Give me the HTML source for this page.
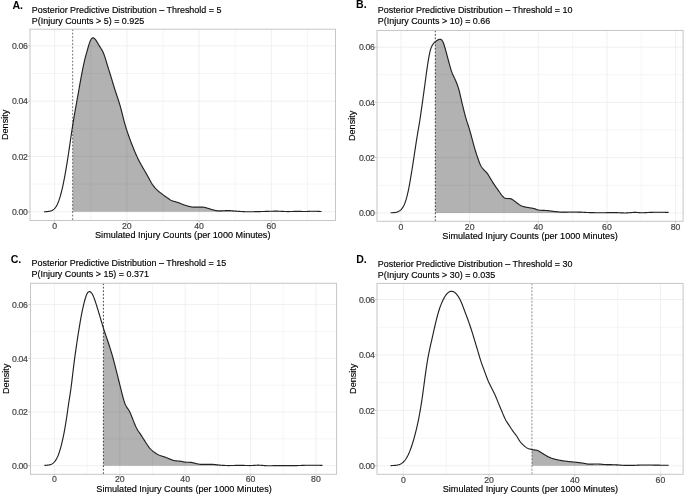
<!DOCTYPE html>
<html lang="en"><head><meta charset="utf-8"><title>Posterior Predictive Distributions</title>
<style>html,body{margin:0;padding:0;background:#fff}body{width:685px;height:494px;overflow:hidden}</style></head>
<body>
<svg width="685" height="494" viewBox="0 0 685 494" style="display:block">
<rect width="685" height="494" fill="#fff"/>
<g font-family="'Liberation Sans', Arial, Helvetica, sans-serif"><line x1="90.73" x2="90.73" y1="29.2" y2="220.5" stroke="#ebebeb" stroke-width="0.5"/>
<line x1="162.99" x2="162.99" y1="29.2" y2="220.5" stroke="#ebebeb" stroke-width="0.5"/>
<line x1="235.25" x2="235.25" y1="29.2" y2="220.5" stroke="#ebebeb" stroke-width="0.5"/>
<line x1="307.51" x2="307.51" y1="29.2" y2="220.5" stroke="#ebebeb" stroke-width="0.5"/>
<line x1="30.0" x2="335.5" y1="184.14" y2="184.14" stroke="#ebebeb" stroke-width="0.5"/>
<line x1="30.0" x2="335.5" y1="128.82" y2="128.82" stroke="#ebebeb" stroke-width="0.5"/>
<line x1="30.0" x2="335.5" y1="73.50" y2="73.50" stroke="#ebebeb" stroke-width="0.5"/>
<line x1="54.60" x2="54.60" y1="29.2" y2="220.5" stroke="#ebebeb" stroke-width="0.75"/>
<line x1="126.86" x2="126.86" y1="29.2" y2="220.5" stroke="#ebebeb" stroke-width="0.75"/>
<line x1="199.12" x2="199.12" y1="29.2" y2="220.5" stroke="#ebebeb" stroke-width="0.75"/>
<line x1="271.38" x2="271.38" y1="29.2" y2="220.5" stroke="#ebebeb" stroke-width="0.75"/>
<line x1="30.0" x2="335.5" y1="211.80" y2="211.80" stroke="#ebebeb" stroke-width="0.75"/>
<line x1="30.0" x2="335.5" y1="156.48" y2="156.48" stroke="#ebebeb" stroke-width="0.75"/>
<line x1="30.0" x2="335.5" y1="101.16" y2="101.16" stroke="#ebebeb" stroke-width="0.75"/>
<line x1="30.0" x2="335.5" y1="45.84" y2="45.84" stroke="#ebebeb" stroke-width="0.75"/>
<path d="M72.67,125.47 L73.01,123.30 L73.51,120.21 L74.01,117.20 L74.51,114.28 L75.01,111.43 L75.51,108.62 L76.01,105.83 L76.51,103.04 L77.01,100.25 L77.51,97.44 L78.01,94.63 L78.51,91.81 L79.01,89.00 L79.51,86.19 L80.01,83.40 L80.51,80.62 L81.01,77.87 L81.51,75.17 L82.01,72.54 L82.51,69.99 L83.01,67.53 L83.51,65.17 L84.01,62.90 L84.51,60.73 L85.01,58.68 L85.51,56.73 L86.01,54.86 L86.51,53.06 L87.01,51.29 L87.51,49.53 L88.01,47.76 L88.51,46.02 L89.01,44.36 L89.51,42.85 L90.01,41.54 L90.51,40.44 L91.01,39.53 L91.51,38.79 L92.01,38.25 L92.51,37.91 L93.01,37.79 L93.51,37.89 L94.01,38.16 L94.51,38.58 L95.01,39.10 L95.51,39.70 L96.01,40.37 L96.51,41.12 L97.01,41.92 L97.51,42.77 L98.01,43.64 L98.51,44.49 L99.01,45.33 L99.51,46.14 L100.01,46.93 L100.51,47.71 L101.01,48.49 L101.51,49.27 L102.01,50.11 L102.51,51.03 L103.01,52.06 L103.51,53.22 L104.01,54.49 L104.51,55.87 L105.01,57.36 L105.51,58.95 L106.01,60.61 L106.51,62.31 L107.01,64.00 L107.51,65.65 L108.01,67.25 L108.51,68.82 L109.01,70.39 L109.51,71.97 L110.01,73.58 L110.51,75.21 L111.01,76.86 L111.51,78.52 L112.01,80.18 L112.51,81.84 L113.01,83.50 L113.51,85.15 L114.01,86.78 L114.51,88.38 L115.01,89.96 L115.51,91.51 L116.01,93.03 L116.51,94.52 L117.01,96.00 L117.51,97.48 L118.01,98.98 L118.51,100.51 L119.01,102.08 L119.51,103.71 L120.01,105.42 L120.51,107.20 L121.01,109.07 L121.51,111.00 L122.01,112.98 L122.51,114.97 L123.01,116.96 L123.51,118.91 L124.01,120.81 L124.51,122.63 L125.01,124.39 L125.51,126.08 L126.01,127.71 L126.51,129.30 L127.01,130.85 L127.51,132.37 L128.01,133.85 L128.51,135.31 L129.01,136.74 L129.51,138.14 L130.01,139.52 L130.51,140.88 L131.01,142.21 L131.51,143.51 L132.01,144.79 L132.51,146.05 L133.01,147.29 L133.51,148.52 L134.01,149.73 L134.51,150.92 L135.01,152.10 L135.51,153.26 L136.01,154.41 L136.51,155.53 L137.01,156.63 L137.51,157.70 L138.01,158.74 L138.51,159.76 L139.01,160.74 L139.51,161.69 L140.01,162.63 L140.51,163.54 L141.01,164.45 L141.51,165.34 L142.01,166.23 L142.51,167.11 L143.01,167.99 L143.51,168.85 L144.01,169.71 L144.51,170.57 L145.01,171.42 L145.51,172.27 L146.01,173.13 L146.51,174.00 L147.01,174.88 L147.51,175.78 L148.01,176.69 L148.51,177.63 L149.01,178.57 L149.51,179.51 L150.01,180.43 L150.51,181.34 L151.01,182.21 L151.51,183.04 L152.01,183.82 L152.51,184.56 L153.01,185.26 L153.51,185.94 L154.01,186.58 L154.51,187.20 L155.01,187.80 L155.51,188.37 L156.01,188.92 L156.51,189.44 L157.01,189.94 L157.51,190.42 L158.01,190.87 L158.51,191.31 L159.01,191.72 L159.51,192.12 L160.01,192.51 L160.51,192.89 L161.01,193.27 L161.51,193.65 L162.01,194.02 L162.51,194.40 L163.01,194.77 L163.51,195.14 L164.01,195.51 L164.51,195.87 L165.01,196.23 L165.51,196.59 L166.01,196.94 L166.51,197.29 L167.01,197.64 L167.51,197.98 L168.01,198.33 L168.51,198.67 L169.01,199.01 L169.51,199.34 L170.01,199.66 L170.51,199.95 L171.01,200.22 L171.51,200.46 L172.01,200.68 L172.51,200.88 L173.01,201.06 L173.51,201.22 L174.01,201.38 L174.51,201.53 L175.01,201.67 L175.51,201.81 L176.01,201.95 L176.51,202.09 L177.01,202.24 L177.51,202.39 L178.01,202.56 L178.51,202.73 L179.01,202.91 L179.51,203.10 L180.01,203.30 L180.51,203.50 L181.01,203.70 L181.51,203.91 L182.01,204.11 L182.51,204.31 L183.01,204.51 L183.51,204.71 L184.01,204.89 L184.51,205.07 L185.01,205.23 L185.51,205.39 L186.01,205.53 L186.51,205.68 L187.01,205.81 L187.51,205.95 L188.01,206.09 L188.51,206.22 L189.01,206.35 L189.51,206.47 L190.01,206.59 L190.51,206.70 L191.01,206.81 L191.51,206.90 L192.01,206.97 L192.51,207.04 L193.01,207.09 L193.51,207.12 L194.01,207.14 L194.51,207.15 L195.01,207.15 L195.51,207.16 L196.01,207.16 L196.51,207.16 L197.01,207.16 L197.51,207.16 L198.01,207.16 L198.51,207.16 L199.01,207.16 L199.51,207.16 L200.01,207.16 L200.51,207.16 L201.01,207.16 L201.51,207.16 L202.01,207.16 L202.51,207.17 L203.01,207.18 L203.51,207.22 L204.01,207.28 L204.51,207.36 L205.01,207.47 L205.51,207.60 L206.01,207.74 L206.51,207.89 L207.01,208.04 L207.51,208.19 L208.01,208.34 L208.51,208.49 L209.01,208.64 L209.51,208.79 L210.01,208.95 L210.51,209.12 L211.01,209.28 L211.51,209.44 L212.01,209.59 L212.51,209.74 L213.01,209.88 L213.51,210.01 L214.01,210.13 L214.51,210.25 L215.01,210.36 L215.51,210.47 L216.01,210.57 L216.51,210.66 L217.01,210.75 L217.51,210.82 L218.01,210.87 L218.51,210.91 L219.01,210.94 L219.51,210.94 L220.01,210.94 L220.51,210.93 L221.01,210.91 L221.51,210.89 L222.01,210.86 L222.51,210.83 L223.01,210.80 L223.51,210.77 L224.01,210.74 L224.51,210.71 L225.01,210.68 L225.51,210.65 L226.01,210.62 L226.51,210.60 L227.01,210.59 L227.51,210.58 L228.01,210.58 L228.51,210.58 L229.01,210.59 L229.51,210.61 L230.01,210.64 L230.51,210.67 L231.01,210.71 L231.51,210.75 L232.01,210.80 L232.51,210.84 L233.01,210.89 L233.51,210.94 L234.01,210.99 L234.51,211.03 L235.01,211.08 L235.51,211.12 L236.01,211.15 L236.51,211.19 L237.01,211.22 L237.51,211.25 L238.01,211.29 L238.51,211.32 L239.01,211.35 L239.51,211.39 L240.01,211.42 L240.51,211.45 L241.01,211.49 L241.51,211.52 L242.01,211.55 L242.51,211.58 L243.01,211.60 L243.51,211.63 L244.01,211.65 L244.51,211.68 L245.01,211.70 L245.51,211.71 L246.01,211.73 L246.51,211.74 L247.01,211.75 L247.51,211.76 L248.01,211.76 L248.51,211.76 L249.01,211.76 L249.51,211.76 L250.01,211.76 L250.51,211.75 L251.01,211.75 L251.51,211.74 L252.01,211.73 L252.51,211.72 L253.01,211.72 L253.51,211.71 L254.01,211.70 L254.51,211.69 L255.01,211.68 L255.51,211.67 L256.01,211.65 L256.51,211.64 L257.01,211.63 L257.51,211.62 L258.01,211.61 L258.51,211.60 L259.01,211.59 L259.51,211.58 L260.01,211.57 L260.51,211.56 L261.01,211.54 L261.51,211.53 L262.01,211.52 L262.51,211.51 L263.01,211.49 L263.51,211.48 L264.01,211.46 L264.51,211.45 L265.01,211.43 L265.51,211.41 L266.01,211.40 L266.51,211.38 L267.01,211.36 L267.51,211.35 L268.01,211.33 L268.51,211.31 L269.01,211.30 L269.51,211.28 L270.01,211.27 L270.51,211.25 L271.01,211.24 L271.51,211.23 L272.01,211.22 L272.51,211.21 L273.01,211.20 L273.51,211.19 L274.01,211.18 L274.51,211.18 L275.01,211.17 L275.51,211.17 L276.01,211.17 L276.51,211.17 L277.01,211.17 L277.51,211.18 L278.01,211.19 L278.51,211.21 L279.01,211.22 L279.51,211.24 L280.01,211.26 L280.51,211.28 L281.01,211.31 L281.51,211.33 L282.01,211.36 L282.51,211.38 L283.01,211.40 L283.51,211.43 L284.01,211.45 L284.51,211.47 L285.01,211.49 L285.51,211.51 L286.01,211.53 L286.51,211.54 L287.01,211.55 L287.51,211.56 L288.01,211.56 L288.51,211.56 L289.01,211.55 L289.51,211.55 L290.01,211.54 L290.51,211.53 L291.01,211.51 L291.51,211.50 L292.01,211.48 L292.51,211.47 L293.01,211.45 L293.51,211.44 L294.01,211.42 L294.51,211.41 L295.01,211.39 L295.51,211.38 L296.01,211.38 L296.51,211.37 L297.01,211.37 L297.51,211.37 L298.01,211.37 L298.51,211.38 L299.01,211.39 L299.51,211.40 L300.01,211.41 L300.51,211.42 L301.01,211.43 L301.51,211.44 L302.01,211.46 L302.51,211.47 L303.01,211.48 L303.51,211.48 L304.01,211.49 L304.51,211.49 L305.01,211.49 L305.51,211.49 L306.01,211.48 L306.51,211.47 L307.01,211.45 L307.51,211.43 L308.01,211.40 L308.51,211.38 L309.01,211.35 L309.51,211.32 L310.01,211.30 L310.51,211.27 L311.01,211.25 L311.51,211.23 L312.01,211.22 L312.51,211.21 L313.01,211.21 L313.51,211.21 L314.01,211.21 L314.51,211.22 L315.01,211.22 L315.51,211.24 L316.01,211.25 L316.51,211.27 L317.01,211.28 L317.51,211.31 L318.01,211.33 L318.51,211.36 L319.01,211.38 L319.51,211.41 L320.01,211.45 L320.51,211.48 L321.01,211.51 L321.51,211.53 L321.51,211.80 L72.67,211.80 Z" fill="#000" fill-opacity="0.3" stroke="none"/>
<path d="M44.01,211.78 L44.51,211.77 L45.01,211.75 L45.51,211.73 L46.01,211.69 L46.51,211.65 L47.01,211.60 L47.51,211.55 L48.01,211.49 L48.51,211.42 L49.01,211.34 L49.51,211.25 L50.01,211.14 L50.51,211.01 L51.01,210.85 L51.51,210.65 L52.01,210.42 L52.51,210.14 L53.01,209.83 L53.51,209.48 L54.01,209.08 L54.51,208.62 L55.01,208.08 L55.51,207.45 L56.01,206.73 L56.51,205.92 L57.01,205.01 L57.51,203.99 L58.01,202.84 L58.51,201.56 L59.01,200.17 L59.51,198.67 L60.01,197.06 L60.51,195.35 L61.01,193.52 L61.51,191.58 L62.01,189.52 L62.51,187.35 L63.01,185.08 L63.51,182.69 L64.01,180.18 L64.51,177.57 L65.01,174.85 L65.51,172.05 L66.01,169.16 L66.51,166.18 L67.01,163.13 L67.51,160.00 L68.01,156.79 L68.51,153.53 L69.01,150.20 L69.51,146.81 L70.01,143.38 L70.51,139.93 L71.01,136.49 L71.51,133.09 L72.01,129.75 L72.51,126.48 L73.01,123.30 L73.51,120.21 L74.01,117.20 L74.51,114.28 L75.01,111.43 L75.51,108.62 L76.01,105.83 L76.51,103.04 L77.01,100.25 L77.51,97.44 L78.01,94.63 L78.51,91.81 L79.01,89.00 L79.51,86.19 L80.01,83.40 L80.51,80.62 L81.01,77.87 L81.51,75.17 L82.01,72.54 L82.51,69.99 L83.01,67.53 L83.51,65.17 L84.01,62.90 L84.51,60.73 L85.01,58.68 L85.51,56.73 L86.01,54.86 L86.51,53.06 L87.01,51.29 L87.51,49.53 L88.01,47.76 L88.51,46.02 L89.01,44.36 L89.51,42.85 L90.01,41.54 L90.51,40.44 L91.01,39.53 L91.51,38.79 L92.01,38.25 L92.51,37.91 L93.01,37.79 L93.51,37.89 L94.01,38.16 L94.51,38.58 L95.01,39.10 L95.51,39.70 L96.01,40.37 L96.51,41.12 L97.01,41.92 L97.51,42.77 L98.01,43.64 L98.51,44.49 L99.01,45.33 L99.51,46.14 L100.01,46.93 L100.51,47.71 L101.01,48.49 L101.51,49.27 L102.01,50.11 L102.51,51.03 L103.01,52.06 L103.51,53.22 L104.01,54.49 L104.51,55.87 L105.01,57.36 L105.51,58.95 L106.01,60.61 L106.51,62.31 L107.01,64.00 L107.51,65.65 L108.01,67.25 L108.51,68.82 L109.01,70.39 L109.51,71.97 L110.01,73.58 L110.51,75.21 L111.01,76.86 L111.51,78.52 L112.01,80.18 L112.51,81.84 L113.01,83.50 L113.51,85.15 L114.01,86.78 L114.51,88.38 L115.01,89.96 L115.51,91.51 L116.01,93.03 L116.51,94.52 L117.01,96.00 L117.51,97.48 L118.01,98.98 L118.51,100.51 L119.01,102.08 L119.51,103.71 L120.01,105.42 L120.51,107.20 L121.01,109.07 L121.51,111.00 L122.01,112.98 L122.51,114.97 L123.01,116.96 L123.51,118.91 L124.01,120.81 L124.51,122.63 L125.01,124.39 L125.51,126.08 L126.01,127.71 L126.51,129.30 L127.01,130.85 L127.51,132.37 L128.01,133.85 L128.51,135.31 L129.01,136.74 L129.51,138.14 L130.01,139.52 L130.51,140.88 L131.01,142.21 L131.51,143.51 L132.01,144.79 L132.51,146.05 L133.01,147.29 L133.51,148.52 L134.01,149.73 L134.51,150.92 L135.01,152.10 L135.51,153.26 L136.01,154.41 L136.51,155.53 L137.01,156.63 L137.51,157.70 L138.01,158.74 L138.51,159.76 L139.01,160.74 L139.51,161.69 L140.01,162.63 L140.51,163.54 L141.01,164.45 L141.51,165.34 L142.01,166.23 L142.51,167.11 L143.01,167.99 L143.51,168.85 L144.01,169.71 L144.51,170.57 L145.01,171.42 L145.51,172.27 L146.01,173.13 L146.51,174.00 L147.01,174.88 L147.51,175.78 L148.01,176.69 L148.51,177.63 L149.01,178.57 L149.51,179.51 L150.01,180.43 L150.51,181.34 L151.01,182.21 L151.51,183.04 L152.01,183.82 L152.51,184.56 L153.01,185.26 L153.51,185.94 L154.01,186.58 L154.51,187.20 L155.01,187.80 L155.51,188.37 L156.01,188.92 L156.51,189.44 L157.01,189.94 L157.51,190.42 L158.01,190.87 L158.51,191.31 L159.01,191.72 L159.51,192.12 L160.01,192.51 L160.51,192.89 L161.01,193.27 L161.51,193.65 L162.01,194.02 L162.51,194.40 L163.01,194.77 L163.51,195.14 L164.01,195.51 L164.51,195.87 L165.01,196.23 L165.51,196.59 L166.01,196.94 L166.51,197.29 L167.01,197.64 L167.51,197.98 L168.01,198.33 L168.51,198.67 L169.01,199.01 L169.51,199.34 L170.01,199.66 L170.51,199.95 L171.01,200.22 L171.51,200.46 L172.01,200.68 L172.51,200.88 L173.01,201.06 L173.51,201.22 L174.01,201.38 L174.51,201.53 L175.01,201.67 L175.51,201.81 L176.01,201.95 L176.51,202.09 L177.01,202.24 L177.51,202.39 L178.01,202.56 L178.51,202.73 L179.01,202.91 L179.51,203.10 L180.01,203.30 L180.51,203.50 L181.01,203.70 L181.51,203.91 L182.01,204.11 L182.51,204.31 L183.01,204.51 L183.51,204.71 L184.01,204.89 L184.51,205.07 L185.01,205.23 L185.51,205.39 L186.01,205.53 L186.51,205.68 L187.01,205.81 L187.51,205.95 L188.01,206.09 L188.51,206.22 L189.01,206.35 L189.51,206.47 L190.01,206.59 L190.51,206.70 L191.01,206.81 L191.51,206.90 L192.01,206.97 L192.51,207.04 L193.01,207.09 L193.51,207.12 L194.01,207.14 L194.51,207.15 L195.01,207.15 L195.51,207.16 L196.01,207.16 L196.51,207.16 L197.01,207.16 L197.51,207.16 L198.01,207.16 L198.51,207.16 L199.01,207.16 L199.51,207.16 L200.01,207.16 L200.51,207.16 L201.01,207.16 L201.51,207.16 L202.01,207.16 L202.51,207.17 L203.01,207.18 L203.51,207.22 L204.01,207.28 L204.51,207.36 L205.01,207.47 L205.51,207.60 L206.01,207.74 L206.51,207.89 L207.01,208.04 L207.51,208.19 L208.01,208.34 L208.51,208.49 L209.01,208.64 L209.51,208.79 L210.01,208.95 L210.51,209.12 L211.01,209.28 L211.51,209.44 L212.01,209.59 L212.51,209.74 L213.01,209.88 L213.51,210.01 L214.01,210.13 L214.51,210.25 L215.01,210.36 L215.51,210.47 L216.01,210.57 L216.51,210.66 L217.01,210.75 L217.51,210.82 L218.01,210.87 L218.51,210.91 L219.01,210.94 L219.51,210.94 L220.01,210.94 L220.51,210.93 L221.01,210.91 L221.51,210.89 L222.01,210.86 L222.51,210.83 L223.01,210.80 L223.51,210.77 L224.01,210.74 L224.51,210.71 L225.01,210.68 L225.51,210.65 L226.01,210.62 L226.51,210.60 L227.01,210.59 L227.51,210.58 L228.01,210.58 L228.51,210.58 L229.01,210.59 L229.51,210.61 L230.01,210.64 L230.51,210.67 L231.01,210.71 L231.51,210.75 L232.01,210.80 L232.51,210.84 L233.01,210.89 L233.51,210.94 L234.01,210.99 L234.51,211.03 L235.01,211.08 L235.51,211.12 L236.01,211.15 L236.51,211.19 L237.01,211.22 L237.51,211.25 L238.01,211.29 L238.51,211.32 L239.01,211.35 L239.51,211.39 L240.01,211.42 L240.51,211.45 L241.01,211.49 L241.51,211.52 L242.01,211.55 L242.51,211.58 L243.01,211.60 L243.51,211.63 L244.01,211.65 L244.51,211.68 L245.01,211.70 L245.51,211.71 L246.01,211.73 L246.51,211.74 L247.01,211.75 L247.51,211.76 L248.01,211.76 L248.51,211.76 L249.01,211.76 L249.51,211.76 L250.01,211.76 L250.51,211.75 L251.01,211.75 L251.51,211.74 L252.01,211.73 L252.51,211.72 L253.01,211.72 L253.51,211.71 L254.01,211.70 L254.51,211.69 L255.01,211.68 L255.51,211.67 L256.01,211.65 L256.51,211.64 L257.01,211.63 L257.51,211.62 L258.01,211.61 L258.51,211.60 L259.01,211.59 L259.51,211.58 L260.01,211.57 L260.51,211.56 L261.01,211.54 L261.51,211.53 L262.01,211.52 L262.51,211.51 L263.01,211.49 L263.51,211.48 L264.01,211.46 L264.51,211.45 L265.01,211.43 L265.51,211.41 L266.01,211.40 L266.51,211.38 L267.01,211.36 L267.51,211.35 L268.01,211.33 L268.51,211.31 L269.01,211.30 L269.51,211.28 L270.01,211.27 L270.51,211.25 L271.01,211.24 L271.51,211.23 L272.01,211.22 L272.51,211.21 L273.01,211.20 L273.51,211.19 L274.01,211.18 L274.51,211.18 L275.01,211.17 L275.51,211.17 L276.01,211.17 L276.51,211.17 L277.01,211.17 L277.51,211.18 L278.01,211.19 L278.51,211.21 L279.01,211.22 L279.51,211.24 L280.01,211.26 L280.51,211.28 L281.01,211.31 L281.51,211.33 L282.01,211.36 L282.51,211.38 L283.01,211.40 L283.51,211.43 L284.01,211.45 L284.51,211.47 L285.01,211.49 L285.51,211.51 L286.01,211.53 L286.51,211.54 L287.01,211.55 L287.51,211.56 L288.01,211.56 L288.51,211.56 L289.01,211.55 L289.51,211.55 L290.01,211.54 L290.51,211.53 L291.01,211.51 L291.51,211.50 L292.01,211.48 L292.51,211.47 L293.01,211.45 L293.51,211.44 L294.01,211.42 L294.51,211.41 L295.01,211.39 L295.51,211.38 L296.01,211.38 L296.51,211.37 L297.01,211.37 L297.51,211.37 L298.01,211.37 L298.51,211.38 L299.01,211.39 L299.51,211.40 L300.01,211.41 L300.51,211.42 L301.01,211.43 L301.51,211.44 L302.01,211.46 L302.51,211.47 L303.01,211.48 L303.51,211.48 L304.01,211.49 L304.51,211.49 L305.01,211.49 L305.51,211.49 L306.01,211.48 L306.51,211.47 L307.01,211.45 L307.51,211.43 L308.01,211.40 L308.51,211.38 L309.01,211.35 L309.51,211.32 L310.01,211.30 L310.51,211.27 L311.01,211.25 L311.51,211.23 L312.01,211.22 L312.51,211.21 L313.01,211.21 L313.51,211.21 L314.01,211.21 L314.51,211.22 L315.01,211.22 L315.51,211.24 L316.01,211.25 L316.51,211.27 L317.01,211.28 L317.51,211.31 L318.01,211.33 L318.51,211.36 L319.01,211.38 L319.51,211.41 L320.01,211.45 L320.51,211.48 L321.01,211.51 L321.51,211.53" fill="none" stroke="#222" stroke-width="1.15" stroke-linejoin="round" stroke-linecap="butt"/>
<line x1="72.67" x2="72.67" y1="29.2" y2="220.5" stroke="#262626" stroke-width="0.85" stroke-dasharray="1.75 1.75" stroke-opacity="0.8"/>
<rect x="30.0" y="29.2" width="305.50" height="191.30" fill="none" stroke="#c6c6c6" stroke-width="1.0"/>
<line x1="54.60" x2="54.60" y1="220.5" y2="222.7" stroke="#c6c6c6" stroke-width="1.0"/>
<text x="54.60" y="229" font-size="8.7" fill="#454545" stroke="#454545" stroke-width="0.2" text-anchor="middle">0</text>
<line x1="126.86" x2="126.86" y1="220.5" y2="222.7" stroke="#c6c6c6" stroke-width="1.0"/>
<text x="126.86" y="229" font-size="8.7" fill="#454545" stroke="#454545" stroke-width="0.2" text-anchor="middle">20</text>
<line x1="199.12" x2="199.12" y1="220.5" y2="222.7" stroke="#c6c6c6" stroke-width="1.0"/>
<text x="199.12" y="229" font-size="8.7" fill="#454545" stroke="#454545" stroke-width="0.2" text-anchor="middle">40</text>
<line x1="271.38" x2="271.38" y1="220.5" y2="222.7" stroke="#c6c6c6" stroke-width="1.0"/>
<text x="271.38" y="229" font-size="8.7" fill="#454545" stroke="#454545" stroke-width="0.2" text-anchor="middle">60</text>
<line x1="27.8" x2="30.0" y1="211.80" y2="211.80" stroke="#c6c6c6" stroke-width="1.0"/>
<text x="27.40" y="215" font-size="8.7" letter-spacing="-0.35" fill="#454545" stroke="#454545" stroke-width="0.2" text-anchor="end">0.00</text>
<line x1="27.8" x2="30.0" y1="156.48" y2="156.48" stroke="#c6c6c6" stroke-width="1.0"/>
<text x="27.40" y="160" font-size="8.7" letter-spacing="-0.35" fill="#454545" stroke="#454545" stroke-width="0.2" text-anchor="end">0.02</text>
<line x1="27.8" x2="30.0" y1="101.16" y2="101.16" stroke="#c6c6c6" stroke-width="1.0"/>
<text x="27.40" y="104" font-size="8.7" letter-spacing="-0.35" fill="#454545" stroke="#454545" stroke-width="0.2" text-anchor="end">0.04</text>
<line x1="27.8" x2="30.0" y1="45.84" y2="45.84" stroke="#c6c6c6" stroke-width="1.0"/>
<text x="27.40" y="49" font-size="8.7" letter-spacing="-0.35" fill="#454545" stroke="#454545" stroke-width="0.2" text-anchor="end">0.06</text>
<text x="182.75" y="238.10" font-size="9.1" fill="#000" stroke="#000" stroke-width="0.15" text-anchor="middle">Simulated Injury Counts (per 1000 Minutes)</text>
<text transform="translate(8.40,124.85) rotate(-90)" font-size="9.1" fill="#000" stroke="#000" stroke-width="0.15" text-anchor="middle">Density</text>
<text x="31.80" y="13.00" font-size="8.96" fill="#000" stroke="#000" stroke-width="0.15">Posterior Predictive Distribution – Threshold = 5</text>
<text x="31.80" y="24.00" font-size="8.96" fill="#000" stroke="#000" stroke-width="0.15">P(Injury Counts &gt; 5) = 0.925</text>
<text x="12.4" y="8.8" font-size="10.6" font-weight="bold" fill="#000">A.</text></g>
<g font-family="'Liberation Sans', Arial, Helvetica, sans-serif"><line x1="435.32" x2="435.32" y1="30.45" y2="221.3" stroke="#ebebeb" stroke-width="0.5"/>
<line x1="503.98" x2="503.98" y1="30.45" y2="221.3" stroke="#ebebeb" stroke-width="0.5"/>
<line x1="572.62" x2="572.62" y1="30.45" y2="221.3" stroke="#ebebeb" stroke-width="0.5"/>
<line x1="641.27" x2="641.27" y1="30.45" y2="221.3" stroke="#ebebeb" stroke-width="0.5"/>
<line x1="377.0" x2="683.1" y1="185.31" y2="185.31" stroke="#ebebeb" stroke-width="0.5"/>
<line x1="377.0" x2="683.1" y1="130.03" y2="130.03" stroke="#ebebeb" stroke-width="0.5"/>
<line x1="377.0" x2="683.1" y1="74.75" y2="74.75" stroke="#ebebeb" stroke-width="0.5"/>
<line x1="401.00" x2="401.00" y1="30.45" y2="221.3" stroke="#ebebeb" stroke-width="0.75"/>
<line x1="469.65" x2="469.65" y1="30.45" y2="221.3" stroke="#ebebeb" stroke-width="0.75"/>
<line x1="538.30" x2="538.30" y1="30.45" y2="221.3" stroke="#ebebeb" stroke-width="0.75"/>
<line x1="606.95" x2="606.95" y1="30.45" y2="221.3" stroke="#ebebeb" stroke-width="0.75"/>
<line x1="675.60" x2="675.60" y1="30.45" y2="221.3" stroke="#ebebeb" stroke-width="0.75"/>
<line x1="377.0" x2="683.1" y1="212.95" y2="212.95" stroke="#ebebeb" stroke-width="0.75"/>
<line x1="377.0" x2="683.1" y1="157.67" y2="157.67" stroke="#ebebeb" stroke-width="0.75"/>
<line x1="377.0" x2="683.1" y1="102.39" y2="102.39" stroke="#ebebeb" stroke-width="0.75"/>
<line x1="377.0" x2="683.1" y1="47.11" y2="47.11" stroke="#ebebeb" stroke-width="0.75"/>
<path d="M435.32,41.82 L435.61,41.57 L436.11,41.17 L436.61,40.78 L437.11,40.44 L437.61,40.12 L438.11,39.85 L438.61,39.61 L439.11,39.42 L439.61,39.28 L440.11,39.23 L440.61,39.31 L441.11,39.53 L441.61,39.93 L442.11,40.51 L442.61,41.30 L443.11,42.31 L443.61,43.55 L444.11,44.98 L444.61,46.57 L445.11,48.26 L445.61,50.04 L446.11,51.87 L446.61,53.74 L447.11,55.61 L447.61,57.50 L448.11,59.37 L448.61,61.24 L449.11,63.10 L449.61,64.93 L450.11,66.72 L450.61,68.45 L451.11,70.06 L451.61,71.54 L452.11,72.87 L452.61,74.07 L453.11,75.18 L453.61,76.25 L454.11,77.30 L454.61,78.37 L455.11,79.46 L455.61,80.58 L456.11,81.74 L456.61,82.96 L457.11,84.24 L457.61,85.60 L458.11,87.08 L458.61,88.70 L459.11,90.49 L459.61,92.46 L460.11,94.57 L460.61,96.78 L461.11,98.99 L461.61,101.18 L462.11,103.32 L462.61,105.41 L463.11,107.47 L463.61,109.50 L464.11,111.50 L464.61,113.47 L465.11,115.37 L465.61,117.20 L466.11,118.93 L466.61,120.55 L467.11,122.09 L467.61,123.58 L468.11,125.05 L468.61,126.56 L469.11,128.15 L469.61,129.81 L470.11,131.56 L470.61,133.37 L471.11,135.22 L471.61,137.09 L472.11,138.96 L472.61,140.84 L473.11,142.71 L473.61,144.56 L474.11,146.38 L474.61,148.15 L475.11,149.87 L475.61,151.51 L476.11,153.10 L476.61,154.64 L477.11,156.12 L477.61,157.56 L478.11,158.97 L478.61,160.35 L479.11,161.69 L479.61,162.98 L480.11,164.17 L480.61,165.25 L481.11,166.20 L481.61,167.03 L482.11,167.74 L482.61,168.38 L483.11,168.96 L483.61,169.51 L484.11,170.03 L484.61,170.54 L485.11,171.04 L485.61,171.53 L486.11,172.04 L486.61,172.59 L487.11,173.20 L487.61,173.88 L488.11,174.64 L488.61,175.45 L489.11,176.30 L489.61,177.15 L490.11,178.01 L490.61,178.85 L491.11,179.67 L491.61,180.49 L492.11,181.30 L492.61,182.10 L493.11,182.89 L493.61,183.67 L494.11,184.42 L494.61,185.16 L495.11,185.89 L495.61,186.60 L496.11,187.30 L496.61,187.99 L497.11,188.69 L497.61,189.38 L498.11,190.09 L498.61,190.81 L499.11,191.54 L499.61,192.27 L500.11,193.00 L500.61,193.71 L501.11,194.39 L501.61,195.03 L502.11,195.64 L502.61,196.21 L503.11,196.74 L503.61,197.23 L504.11,197.64 L504.61,197.96 L505.11,198.18 L505.61,198.32 L506.11,198.40 L506.61,198.45 L507.11,198.48 L507.61,198.50 L508.11,198.51 L508.61,198.53 L509.11,198.56 L509.61,198.59 L510.11,198.65 L510.61,198.75 L511.11,198.90 L511.61,199.11 L512.11,199.37 L512.61,199.68 L513.11,200.02 L513.61,200.37 L514.11,200.73 L514.61,201.11 L515.11,201.50 L515.61,201.90 L516.11,202.29 L516.61,202.69 L517.11,203.07 L517.61,203.44 L518.11,203.80 L518.61,204.15 L519.11,204.50 L519.61,204.83 L520.11,205.14 L520.61,205.44 L521.11,205.70 L521.61,205.93 L522.11,206.14 L522.61,206.31 L523.11,206.47 L523.61,206.61 L524.11,206.74 L524.61,206.85 L525.11,206.96 L525.61,207.07 L526.11,207.17 L526.61,207.27 L527.11,207.37 L527.61,207.46 L528.11,207.55 L528.61,207.63 L529.11,207.72 L529.61,207.79 L530.11,207.87 L530.61,207.95 L531.11,208.03 L531.61,208.11 L532.11,208.19 L532.61,208.28 L533.11,208.38 L533.61,208.49 L534.11,208.61 L534.61,208.75 L535.11,208.91 L535.61,209.09 L536.11,209.27 L536.61,209.46 L537.11,209.64 L537.61,209.80 L538.11,209.94 L538.61,210.05 L539.11,210.13 L539.61,210.19 L540.11,210.23 L540.61,210.27 L541.11,210.30 L541.61,210.32 L542.11,210.34 L542.61,210.36 L543.11,210.38 L543.61,210.40 L544.11,210.42 L544.61,210.44 L545.11,210.46 L545.61,210.48 L546.11,210.51 L546.61,210.54 L547.11,210.58 L547.61,210.62 L548.11,210.67 L548.61,210.72 L549.11,210.78 L549.61,210.84 L550.11,210.91 L550.61,210.98 L551.11,211.05 L551.61,211.12 L552.11,211.19 L552.61,211.26 L553.11,211.33 L553.61,211.39 L554.11,211.45 L554.61,211.51 L555.11,211.56 L555.61,211.62 L556.11,211.67 L556.61,211.72 L557.11,211.77 L557.61,211.82 L558.11,211.87 L558.61,211.91 L559.11,211.96 L559.61,212.00 L560.11,212.04 L560.61,212.07 L561.11,212.10 L561.61,212.12 L562.11,212.14 L562.61,212.15 L563.11,212.16 L563.61,212.16 L564.11,212.15 L564.61,212.14 L565.11,212.13 L565.61,212.12 L566.11,212.10 L566.61,212.08 L567.11,212.07 L567.61,212.05 L568.11,212.03 L568.61,212.01 L569.11,212.00 L569.61,211.99 L570.11,211.98 L570.61,211.97 L571.11,211.97 L571.61,211.97 L572.11,211.97 L572.61,211.97 L573.11,211.98 L573.61,211.99 L574.11,211.99 L574.61,212.00 L575.11,212.01 L575.61,212.02 L576.11,212.03 L576.61,212.04 L577.11,212.05 L577.61,212.07 L578.11,212.08 L578.61,212.09 L579.11,212.11 L579.61,212.12 L580.11,212.14 L580.61,212.15 L581.11,212.17 L581.61,212.19 L582.11,212.21 L582.61,212.23 L583.11,212.25 L583.61,212.28 L584.11,212.31 L584.61,212.34 L585.11,212.37 L585.61,212.40 L586.11,212.43 L586.61,212.46 L587.11,212.48 L587.61,212.51 L588.11,212.53 L588.61,212.55 L589.11,212.56 L589.61,212.58 L590.11,212.59 L590.61,212.60 L591.11,212.62 L591.61,212.63 L592.11,212.64 L592.61,212.65 L593.11,212.66 L593.61,212.67 L594.11,212.69 L594.61,212.70 L595.11,212.70 L595.61,212.71 L596.11,212.72 L596.61,212.73 L597.11,212.74 L597.61,212.74 L598.11,212.75 L598.61,212.75 L599.11,212.76 L599.61,212.76 L600.11,212.76 L600.61,212.76 L601.11,212.76 L601.61,212.76 L602.11,212.76 L602.61,212.76 L603.11,212.75 L603.61,212.74 L604.11,212.73 L604.61,212.73 L605.11,212.71 L605.61,212.70 L606.11,212.69 L606.61,212.68 L607.11,212.67 L607.61,212.66 L608.11,212.64 L608.61,212.63 L609.11,212.62 L609.61,212.61 L610.11,212.60 L610.61,212.59 L611.11,212.58 L611.61,212.58 L612.11,212.57 L612.61,212.57 L613.11,212.57 L613.61,212.57 L614.11,212.58 L614.61,212.59 L615.11,212.60 L615.61,212.61 L616.11,212.63 L616.61,212.65 L617.11,212.67 L617.61,212.69 L618.11,212.72 L618.61,212.74 L619.11,212.76 L619.61,212.79 L620.11,212.81 L620.61,212.84 L621.11,212.86 L621.61,212.88 L622.11,212.90 L622.61,212.92 L623.11,212.93 L623.61,212.94 L624.11,212.95 L624.61,212.96 L625.11,212.96 L625.61,212.95 L626.11,212.94 L626.61,212.92 L627.11,212.90 L627.61,212.87 L628.11,212.84 L628.61,212.80 L629.11,212.76 L629.61,212.72 L630.11,212.67 L630.61,212.63 L631.11,212.59 L631.61,212.55 L632.11,212.51 L632.61,212.47 L633.11,212.44 L633.61,212.42 L634.11,212.40 L634.61,212.39 L635.11,212.38 L635.61,212.39 L636.11,212.40 L636.61,212.42 L637.11,212.45 L637.61,212.49 L638.11,212.53 L638.61,212.57 L639.11,212.61 L639.61,212.65 L640.11,212.68 L640.61,212.71 L641.11,212.73 L641.61,212.75 L642.11,212.75 L642.61,212.75 L643.11,212.74 L643.61,212.73 L644.11,212.71 L644.61,212.69 L645.11,212.66 L645.61,212.63 L646.11,212.60 L646.61,212.57 L647.11,212.54 L647.61,212.51 L648.11,212.49 L648.61,212.46 L649.11,212.44 L649.61,212.42 L650.11,212.40 L650.61,212.38 L651.11,212.37 L651.61,212.35 L652.11,212.34 L652.61,212.33 L653.11,212.31 L653.61,212.30 L654.11,212.29 L654.61,212.27 L655.11,212.26 L655.61,212.25 L656.11,212.24 L656.61,212.23 L657.11,212.23 L657.61,212.22 L658.11,212.21 L658.61,212.21 L659.11,212.20 L659.61,212.20 L660.11,212.20 L660.61,212.21 L661.11,212.21 L661.61,212.21 L662.11,212.22 L662.61,212.23 L663.11,212.24 L663.61,212.26 L664.11,212.27 L664.61,212.29 L665.11,212.31 L665.61,212.33 L666.11,212.35 L666.61,212.37 L667.11,212.40 L667.61,212.42 L668.11,212.44 L668.61,212.46 L668.61,212.95 L435.32,212.95 Z" fill="#000" fill-opacity="0.3" stroke="none"/>
<path d="M390.61,212.78 L391.11,212.77 L391.61,212.76 L392.11,212.74 L392.61,212.71 L393.11,212.68 L393.61,212.64 L394.11,212.60 L394.61,212.55 L395.11,212.49 L395.61,212.42 L396.11,212.33 L396.61,212.21 L397.11,212.06 L397.61,211.87 L398.11,211.65 L398.61,211.40 L399.11,211.11 L399.61,210.80 L400.11,210.43 L400.61,210.02 L401.11,209.54 L401.61,208.99 L402.11,208.37 L402.61,207.66 L403.11,206.86 L403.61,205.94 L404.11,204.91 L404.61,203.74 L405.11,202.44 L405.61,201.00 L406.11,199.42 L406.61,197.68 L407.11,195.78 L407.61,193.73 L408.11,191.52 L408.61,189.13 L409.11,186.58 L409.61,183.89 L410.11,181.08 L410.61,178.17 L411.11,175.19 L411.61,172.13 L412.11,169.00 L412.61,165.81 L413.11,162.57 L413.61,159.29 L414.11,155.97 L414.61,152.65 L415.11,149.33 L415.61,146.04 L416.11,142.79 L416.61,139.60 L417.11,136.51 L417.61,133.52 L418.11,130.62 L418.61,127.75 L419.11,124.83 L419.61,121.76 L420.11,118.52 L420.61,115.13 L421.11,111.64 L421.61,108.12 L422.11,104.60 L422.61,101.07 L423.11,97.50 L423.61,93.88 L424.11,90.20 L424.61,86.47 L425.11,82.72 L425.61,78.97 L426.11,75.26 L426.61,71.63 L427.11,68.12 L427.61,64.74 L428.11,61.55 L428.61,58.56 L429.11,55.82 L429.61,53.36 L430.11,51.22 L430.61,49.40 L431.11,47.88 L431.61,46.63 L432.11,45.60 L432.61,44.75 L433.11,44.05 L433.61,43.45 L434.11,42.93 L434.61,42.45 L435.11,42.00 L435.61,41.57 L436.11,41.17 L436.61,40.78 L437.11,40.44 L437.61,40.12 L438.11,39.85 L438.61,39.61 L439.11,39.42 L439.61,39.28 L440.11,39.23 L440.61,39.31 L441.11,39.53 L441.61,39.93 L442.11,40.51 L442.61,41.30 L443.11,42.31 L443.61,43.55 L444.11,44.98 L444.61,46.57 L445.11,48.26 L445.61,50.04 L446.11,51.87 L446.61,53.74 L447.11,55.61 L447.61,57.50 L448.11,59.37 L448.61,61.24 L449.11,63.10 L449.61,64.93 L450.11,66.72 L450.61,68.45 L451.11,70.06 L451.61,71.54 L452.11,72.87 L452.61,74.07 L453.11,75.18 L453.61,76.25 L454.11,77.30 L454.61,78.37 L455.11,79.46 L455.61,80.58 L456.11,81.74 L456.61,82.96 L457.11,84.24 L457.61,85.60 L458.11,87.08 L458.61,88.70 L459.11,90.49 L459.61,92.46 L460.11,94.57 L460.61,96.78 L461.11,98.99 L461.61,101.18 L462.11,103.32 L462.61,105.41 L463.11,107.47 L463.61,109.50 L464.11,111.50 L464.61,113.47 L465.11,115.37 L465.61,117.20 L466.11,118.93 L466.61,120.55 L467.11,122.09 L467.61,123.58 L468.11,125.05 L468.61,126.56 L469.11,128.15 L469.61,129.81 L470.11,131.56 L470.61,133.37 L471.11,135.22 L471.61,137.09 L472.11,138.96 L472.61,140.84 L473.11,142.71 L473.61,144.56 L474.11,146.38 L474.61,148.15 L475.11,149.87 L475.61,151.51 L476.11,153.10 L476.61,154.64 L477.11,156.12 L477.61,157.56 L478.11,158.97 L478.61,160.35 L479.11,161.69 L479.61,162.98 L480.11,164.17 L480.61,165.25 L481.11,166.20 L481.61,167.03 L482.11,167.74 L482.61,168.38 L483.11,168.96 L483.61,169.51 L484.11,170.03 L484.61,170.54 L485.11,171.04 L485.61,171.53 L486.11,172.04 L486.61,172.59 L487.11,173.20 L487.61,173.88 L488.11,174.64 L488.61,175.45 L489.11,176.30 L489.61,177.15 L490.11,178.01 L490.61,178.85 L491.11,179.67 L491.61,180.49 L492.11,181.30 L492.61,182.10 L493.11,182.89 L493.61,183.67 L494.11,184.42 L494.61,185.16 L495.11,185.89 L495.61,186.60 L496.11,187.30 L496.61,187.99 L497.11,188.69 L497.61,189.38 L498.11,190.09 L498.61,190.81 L499.11,191.54 L499.61,192.27 L500.11,193.00 L500.61,193.71 L501.11,194.39 L501.61,195.03 L502.11,195.64 L502.61,196.21 L503.11,196.74 L503.61,197.23 L504.11,197.64 L504.61,197.96 L505.11,198.18 L505.61,198.32 L506.11,198.40 L506.61,198.45 L507.11,198.48 L507.61,198.50 L508.11,198.51 L508.61,198.53 L509.11,198.56 L509.61,198.59 L510.11,198.65 L510.61,198.75 L511.11,198.90 L511.61,199.11 L512.11,199.37 L512.61,199.68 L513.11,200.02 L513.61,200.37 L514.11,200.73 L514.61,201.11 L515.11,201.50 L515.61,201.90 L516.11,202.29 L516.61,202.69 L517.11,203.07 L517.61,203.44 L518.11,203.80 L518.61,204.15 L519.11,204.50 L519.61,204.83 L520.11,205.14 L520.61,205.44 L521.11,205.70 L521.61,205.93 L522.11,206.14 L522.61,206.31 L523.11,206.47 L523.61,206.61 L524.11,206.74 L524.61,206.85 L525.11,206.96 L525.61,207.07 L526.11,207.17 L526.61,207.27 L527.11,207.37 L527.61,207.46 L528.11,207.55 L528.61,207.63 L529.11,207.72 L529.61,207.79 L530.11,207.87 L530.61,207.95 L531.11,208.03 L531.61,208.11 L532.11,208.19 L532.61,208.28 L533.11,208.38 L533.61,208.49 L534.11,208.61 L534.61,208.75 L535.11,208.91 L535.61,209.09 L536.11,209.27 L536.61,209.46 L537.11,209.64 L537.61,209.80 L538.11,209.94 L538.61,210.05 L539.11,210.13 L539.61,210.19 L540.11,210.23 L540.61,210.27 L541.11,210.30 L541.61,210.32 L542.11,210.34 L542.61,210.36 L543.11,210.38 L543.61,210.40 L544.11,210.42 L544.61,210.44 L545.11,210.46 L545.61,210.48 L546.11,210.51 L546.61,210.54 L547.11,210.58 L547.61,210.62 L548.11,210.67 L548.61,210.72 L549.11,210.78 L549.61,210.84 L550.11,210.91 L550.61,210.98 L551.11,211.05 L551.61,211.12 L552.11,211.19 L552.61,211.26 L553.11,211.33 L553.61,211.39 L554.11,211.45 L554.61,211.51 L555.11,211.56 L555.61,211.62 L556.11,211.67 L556.61,211.72 L557.11,211.77 L557.61,211.82 L558.11,211.87 L558.61,211.91 L559.11,211.96 L559.61,212.00 L560.11,212.04 L560.61,212.07 L561.11,212.10 L561.61,212.12 L562.11,212.14 L562.61,212.15 L563.11,212.16 L563.61,212.16 L564.11,212.15 L564.61,212.14 L565.11,212.13 L565.61,212.12 L566.11,212.10 L566.61,212.08 L567.11,212.07 L567.61,212.05 L568.11,212.03 L568.61,212.01 L569.11,212.00 L569.61,211.99 L570.11,211.98 L570.61,211.97 L571.11,211.97 L571.61,211.97 L572.11,211.97 L572.61,211.97 L573.11,211.98 L573.61,211.99 L574.11,211.99 L574.61,212.00 L575.11,212.01 L575.61,212.02 L576.11,212.03 L576.61,212.04 L577.11,212.05 L577.61,212.07 L578.11,212.08 L578.61,212.09 L579.11,212.11 L579.61,212.12 L580.11,212.14 L580.61,212.15 L581.11,212.17 L581.61,212.19 L582.11,212.21 L582.61,212.23 L583.11,212.25 L583.61,212.28 L584.11,212.31 L584.61,212.34 L585.11,212.37 L585.61,212.40 L586.11,212.43 L586.61,212.46 L587.11,212.48 L587.61,212.51 L588.11,212.53 L588.61,212.55 L589.11,212.56 L589.61,212.58 L590.11,212.59 L590.61,212.60 L591.11,212.62 L591.61,212.63 L592.11,212.64 L592.61,212.65 L593.11,212.66 L593.61,212.67 L594.11,212.69 L594.61,212.70 L595.11,212.70 L595.61,212.71 L596.11,212.72 L596.61,212.73 L597.11,212.74 L597.61,212.74 L598.11,212.75 L598.61,212.75 L599.11,212.76 L599.61,212.76 L600.11,212.76 L600.61,212.76 L601.11,212.76 L601.61,212.76 L602.11,212.76 L602.61,212.76 L603.11,212.75 L603.61,212.74 L604.11,212.73 L604.61,212.73 L605.11,212.71 L605.61,212.70 L606.11,212.69 L606.61,212.68 L607.11,212.67 L607.61,212.66 L608.11,212.64 L608.61,212.63 L609.11,212.62 L609.61,212.61 L610.11,212.60 L610.61,212.59 L611.11,212.58 L611.61,212.58 L612.11,212.57 L612.61,212.57 L613.11,212.57 L613.61,212.57 L614.11,212.58 L614.61,212.59 L615.11,212.60 L615.61,212.61 L616.11,212.63 L616.61,212.65 L617.11,212.67 L617.61,212.69 L618.11,212.72 L618.61,212.74 L619.11,212.76 L619.61,212.79 L620.11,212.81 L620.61,212.84 L621.11,212.86 L621.61,212.88 L622.11,212.90 L622.61,212.92 L623.11,212.93 L623.61,212.94 L624.11,212.95 L624.61,212.96 L625.11,212.96 L625.61,212.95 L626.11,212.94 L626.61,212.92 L627.11,212.90 L627.61,212.87 L628.11,212.84 L628.61,212.80 L629.11,212.76 L629.61,212.72 L630.11,212.67 L630.61,212.63 L631.11,212.59 L631.61,212.55 L632.11,212.51 L632.61,212.47 L633.11,212.44 L633.61,212.42 L634.11,212.40 L634.61,212.39 L635.11,212.38 L635.61,212.39 L636.11,212.40 L636.61,212.42 L637.11,212.45 L637.61,212.49 L638.11,212.53 L638.61,212.57 L639.11,212.61 L639.61,212.65 L640.11,212.68 L640.61,212.71 L641.11,212.73 L641.61,212.75 L642.11,212.75 L642.61,212.75 L643.11,212.74 L643.61,212.73 L644.11,212.71 L644.61,212.69 L645.11,212.66 L645.61,212.63 L646.11,212.60 L646.61,212.57 L647.11,212.54 L647.61,212.51 L648.11,212.49 L648.61,212.46 L649.11,212.44 L649.61,212.42 L650.11,212.40 L650.61,212.38 L651.11,212.37 L651.61,212.35 L652.11,212.34 L652.61,212.33 L653.11,212.31 L653.61,212.30 L654.11,212.29 L654.61,212.27 L655.11,212.26 L655.61,212.25 L656.11,212.24 L656.61,212.23 L657.11,212.23 L657.61,212.22 L658.11,212.21 L658.61,212.21 L659.11,212.20 L659.61,212.20 L660.11,212.20 L660.61,212.21 L661.11,212.21 L661.61,212.21 L662.11,212.22 L662.61,212.23 L663.11,212.24 L663.61,212.26 L664.11,212.27 L664.61,212.29 L665.11,212.31 L665.61,212.33 L666.11,212.35 L666.61,212.37 L667.11,212.40 L667.61,212.42 L668.11,212.44 L668.61,212.46" fill="none" stroke="#222" stroke-width="1.15" stroke-linejoin="round" stroke-linecap="butt"/>
<line x1="435.32" x2="435.32" y1="30.45" y2="221.3" stroke="#262626" stroke-width="0.85" stroke-dasharray="1.75 1.75" stroke-opacity="1"/>
<rect x="377.0" y="30.45" width="306.10" height="190.85" fill="none" stroke="#c6c6c6" stroke-width="1.0"/>
<line x1="401.00" x2="401.00" y1="221.3" y2="223.5" stroke="#c6c6c6" stroke-width="1.0"/>
<text x="401.00" y="230" font-size="8.7" fill="#454545" stroke="#454545" stroke-width="0.2" text-anchor="middle">0</text>
<line x1="469.65" x2="469.65" y1="221.3" y2="223.5" stroke="#c6c6c6" stroke-width="1.0"/>
<text x="469.65" y="230" font-size="8.7" fill="#454545" stroke="#454545" stroke-width="0.2" text-anchor="middle">20</text>
<line x1="538.30" x2="538.30" y1="221.3" y2="223.5" stroke="#c6c6c6" stroke-width="1.0"/>
<text x="538.30" y="230" font-size="8.7" fill="#454545" stroke="#454545" stroke-width="0.2" text-anchor="middle">40</text>
<line x1="606.95" x2="606.95" y1="221.3" y2="223.5" stroke="#c6c6c6" stroke-width="1.0"/>
<text x="606.95" y="230" font-size="8.7" fill="#454545" stroke="#454545" stroke-width="0.2" text-anchor="middle">60</text>
<line x1="675.60" x2="675.60" y1="221.3" y2="223.5" stroke="#c6c6c6" stroke-width="1.0"/>
<text x="675.60" y="230" font-size="8.7" fill="#454545" stroke="#454545" stroke-width="0.2" text-anchor="middle">80</text>
<line x1="374.8" x2="377.0" y1="212.95" y2="212.95" stroke="#c6c6c6" stroke-width="1.0"/>
<text x="374.40" y="216" font-size="8.7" letter-spacing="-0.35" fill="#454545" stroke="#454545" stroke-width="0.2" text-anchor="end">0.00</text>
<line x1="374.8" x2="377.0" y1="157.67" y2="157.67" stroke="#c6c6c6" stroke-width="1.0"/>
<text x="374.40" y="161" font-size="8.7" letter-spacing="-0.35" fill="#454545" stroke="#454545" stroke-width="0.2" text-anchor="end">0.02</text>
<line x1="374.8" x2="377.0" y1="102.39" y2="102.39" stroke="#c6c6c6" stroke-width="1.0"/>
<text x="374.40" y="106" font-size="8.7" letter-spacing="-0.35" fill="#454545" stroke="#454545" stroke-width="0.2" text-anchor="end">0.04</text>
<line x1="374.8" x2="377.0" y1="47.11" y2="47.11" stroke="#c6c6c6" stroke-width="1.0"/>
<text x="374.40" y="50" font-size="8.7" letter-spacing="-0.35" fill="#454545" stroke="#454545" stroke-width="0.2" text-anchor="end">0.06</text>
<text x="530.05" y="238.90" font-size="9.1" fill="#000" stroke="#000" stroke-width="0.15" text-anchor="middle">Simulated Injury Counts (per 1000 Minutes)</text>
<text transform="translate(354.90,125.88) rotate(-90)" font-size="9.1" fill="#000" stroke="#000" stroke-width="0.15" text-anchor="middle">Density</text>
<text x="377.80" y="13.00" font-size="8.96" fill="#000" stroke="#000" stroke-width="0.15">Posterior Predictive Distribution – Threshold = 10</text>
<text x="377.80" y="24.00" font-size="8.96" fill="#000" stroke="#000" stroke-width="0.15">P(Injury Counts &gt; 10) = 0.66</text>
<text x="356.1" y="7.8" font-size="10.6" font-weight="bold" fill="#000">B.</text></g>
<g font-family="'Liberation Sans', Arial, Helvetica, sans-serif"><line x1="87.05" x2="87.05" y1="283.3" y2="474.3" stroke="#ebebeb" stroke-width="0.5"/>
<line x1="152.45" x2="152.45" y1="283.3" y2="474.3" stroke="#ebebeb" stroke-width="0.5"/>
<line x1="217.85" x2="217.85" y1="283.3" y2="474.3" stroke="#ebebeb" stroke-width="0.5"/>
<line x1="283.25" x2="283.25" y1="283.3" y2="474.3" stroke="#ebebeb" stroke-width="0.5"/>
<line x1="30.5" x2="336.6" y1="438.85" y2="438.85" stroke="#ebebeb" stroke-width="0.5"/>
<line x1="30.5" x2="336.6" y1="385.15" y2="385.15" stroke="#ebebeb" stroke-width="0.5"/>
<line x1="30.5" x2="336.6" y1="331.45" y2="331.45" stroke="#ebebeb" stroke-width="0.5"/>
<line x1="54.35" x2="54.35" y1="283.3" y2="474.3" stroke="#ebebeb" stroke-width="0.75"/>
<line x1="119.75" x2="119.75" y1="283.3" y2="474.3" stroke="#ebebeb" stroke-width="0.75"/>
<line x1="185.15" x2="185.15" y1="283.3" y2="474.3" stroke="#ebebeb" stroke-width="0.75"/>
<line x1="250.55" x2="250.55" y1="283.3" y2="474.3" stroke="#ebebeb" stroke-width="0.75"/>
<line x1="315.95" x2="315.95" y1="283.3" y2="474.3" stroke="#ebebeb" stroke-width="0.75"/>
<line x1="30.5" x2="336.6" y1="465.70" y2="465.70" stroke="#ebebeb" stroke-width="0.75"/>
<line x1="30.5" x2="336.6" y1="412.00" y2="412.00" stroke="#ebebeb" stroke-width="0.75"/>
<line x1="30.5" x2="336.6" y1="358.30" y2="358.30" stroke="#ebebeb" stroke-width="0.75"/>
<line x1="30.5" x2="336.6" y1="304.60" y2="304.60" stroke="#ebebeb" stroke-width="0.75"/>
<path d="M103.40,328.09 L103.41,328.11 L103.91,329.67 L104.41,331.20 L104.91,332.70 L105.41,334.17 L105.91,335.63 L106.41,337.09 L106.91,338.55 L107.41,340.02 L107.91,341.49 L108.41,342.98 L108.91,344.48 L109.41,346.01 L109.91,347.57 L110.41,349.17 L110.91,350.80 L111.41,352.47 L111.91,354.18 L112.41,355.92 L112.91,357.70 L113.41,359.52 L113.91,361.38 L114.41,363.28 L114.91,365.23 L115.41,367.21 L115.91,369.20 L116.41,371.21 L116.91,373.22 L117.41,375.23 L117.91,377.23 L118.41,379.24 L118.91,381.24 L119.41,383.23 L119.91,385.23 L120.41,387.22 L120.91,389.22 L121.41,391.20 L121.91,393.17 L122.41,395.10 L122.91,396.99 L123.41,398.81 L123.91,400.53 L124.41,402.11 L124.91,403.50 L125.41,404.69 L125.91,405.71 L126.41,406.58 L126.91,407.36 L127.41,408.09 L127.91,408.80 L128.41,409.54 L128.91,410.32 L129.41,411.18 L129.91,412.15 L130.41,413.23 L130.91,414.41 L131.41,415.68 L131.91,416.98 L132.41,418.30 L132.91,419.61 L133.41,420.89 L133.91,422.14 L134.41,423.36 L134.91,424.54 L135.41,425.69 L135.91,426.78 L136.41,427.80 L136.91,428.76 L137.41,429.64 L137.91,430.46 L138.41,431.23 L138.91,431.97 L139.41,432.69 L139.91,433.41 L140.41,434.14 L140.91,434.89 L141.41,435.65 L141.91,436.43 L142.41,437.22 L142.91,438.01 L143.41,438.81 L143.91,439.60 L144.41,440.40 L144.91,441.18 L145.41,441.96 L145.91,442.73 L146.41,443.49 L146.91,444.24 L147.41,444.98 L147.91,445.72 L148.41,446.44 L148.91,447.13 L149.41,447.78 L149.91,448.38 L150.41,448.94 L150.91,449.45 L151.41,449.93 L151.91,450.38 L152.41,450.80 L152.91,451.20 L153.41,451.59 L153.91,451.96 L154.41,452.32 L154.91,452.66 L155.41,453.00 L155.91,453.33 L156.41,453.65 L156.91,453.96 L157.41,454.25 L157.91,454.52 L158.41,454.78 L158.91,455.02 L159.41,455.24 L159.91,455.44 L160.41,455.63 L160.91,455.80 L161.41,455.97 L161.91,456.13 L162.41,456.28 L162.91,456.44 L163.41,456.59 L163.91,456.75 L164.41,456.91 L164.91,457.09 L165.41,457.27 L165.91,457.46 L166.41,457.66 L166.91,457.86 L167.41,458.07 L167.91,458.28 L168.41,458.49 L168.91,458.70 L169.41,458.90 L169.91,459.09 L170.41,459.28 L170.91,459.47 L171.41,459.66 L171.91,459.84 L172.41,460.02 L172.91,460.19 L173.41,460.35 L173.91,460.49 L174.41,460.60 L174.91,460.70 L175.41,460.77 L175.91,460.83 L176.41,460.88 L176.91,460.92 L177.41,460.95 L177.91,460.99 L178.41,461.02 L178.91,461.06 L179.41,461.11 L179.91,461.17 L180.41,461.24 L180.91,461.32 L181.41,461.43 L181.91,461.54 L182.41,461.66 L182.91,461.77 L183.41,461.88 L183.91,461.98 L184.41,462.05 L184.91,462.11 L185.41,462.16 L185.91,462.19 L186.41,462.21 L186.91,462.23 L187.41,462.24 L187.91,462.25 L188.41,462.26 L188.91,462.28 L189.41,462.29 L189.91,462.31 L190.41,462.34 L190.91,462.38 L191.41,462.43 L191.91,462.50 L192.41,462.60 L192.91,462.72 L193.41,462.85 L193.91,462.99 L194.41,463.13 L194.91,463.26 L195.41,463.39 L195.91,463.51 L196.41,463.63 L196.91,463.73 L197.41,463.84 L197.91,463.94 L198.41,464.04 L198.91,464.12 L199.41,464.20 L199.91,464.26 L200.41,464.31 L200.91,464.33 L201.41,464.35 L201.91,464.36 L202.41,464.36 L202.91,464.36 L203.41,464.36 L203.91,464.36 L204.41,464.36 L204.91,464.36 L205.41,464.36 L205.91,464.36 L206.41,464.36 L206.91,464.36 L207.41,464.36 L207.91,464.36 L208.41,464.36 L208.91,464.36 L209.41,464.36 L209.91,464.36 L210.41,464.36 L210.91,464.36 L211.41,464.36 L211.91,464.37 L212.41,464.38 L212.91,464.40 L213.41,464.42 L213.91,464.46 L214.41,464.50 L214.91,464.56 L215.41,464.61 L215.91,464.68 L216.41,464.74 L216.91,464.81 L217.41,464.87 L217.91,464.93 L218.41,464.99 L218.91,465.05 L219.41,465.10 L219.91,465.14 L220.41,465.18 L220.91,465.22 L221.41,465.25 L221.91,465.29 L222.41,465.32 L222.91,465.35 L223.41,465.38 L223.91,465.41 L224.41,465.44 L224.91,465.47 L225.41,465.49 L225.91,465.51 L226.41,465.53 L226.91,465.54 L227.41,465.55 L227.91,465.56 L228.41,465.56 L228.91,465.56 L229.41,465.55 L229.91,465.55 L230.41,465.54 L230.91,465.53 L231.41,465.52 L231.91,465.51 L232.41,465.50 L232.91,465.49 L233.41,465.48 L233.91,465.47 L234.41,465.46 L234.91,465.44 L235.41,465.43 L235.91,465.42 L236.41,465.41 L236.91,465.40 L237.41,465.39 L237.91,465.38 L238.41,465.38 L238.91,465.37 L239.41,465.37 L239.91,465.37 L240.41,465.37 L240.91,465.37 L241.41,465.38 L241.91,465.38 L242.41,465.39 L242.91,465.40 L243.41,465.41 L243.91,465.43 L244.41,465.44 L244.91,465.46 L245.41,465.47 L245.91,465.49 L246.41,465.50 L246.91,465.51 L247.41,465.52 L247.91,465.53 L248.41,465.54 L248.91,465.55 L249.41,465.55 L249.91,465.56 L250.41,465.55 L250.91,465.54 L251.41,465.53 L251.91,465.50 L252.41,465.48 L252.91,465.45 L253.41,465.41 L253.91,465.38 L254.41,465.34 L254.91,465.31 L255.41,465.28 L255.91,465.24 L256.41,465.22 L256.91,465.20 L257.41,465.18 L257.91,465.18 L258.41,465.18 L258.91,465.18 L259.41,465.20 L259.91,465.22 L260.41,465.25 L260.91,465.28 L261.41,465.32 L261.91,465.36 L262.41,465.40 L262.91,465.44 L263.41,465.48 L263.91,465.53 L264.41,465.57 L264.91,465.61 L265.41,465.65 L265.91,465.68 L266.41,465.71 L266.91,465.73 L267.41,465.74 L267.91,465.75 L268.41,465.76 L268.91,465.76 L269.41,465.75 L269.91,465.75 L270.41,465.74 L270.91,465.73 L271.41,465.73 L271.91,465.72 L272.41,465.70 L272.91,465.69 L273.41,465.68 L273.91,465.67 L274.41,465.66 L274.91,465.64 L275.41,465.63 L275.91,465.62 L276.41,465.61 L276.91,465.60 L277.41,465.59 L277.91,465.58 L278.41,465.58 L278.91,465.57 L279.41,465.57 L279.91,465.57 L280.41,465.56 L280.91,465.56 L281.41,465.56 L281.91,465.56 L282.41,465.56 L282.91,465.56 L283.41,465.56 L283.91,465.56 L284.41,465.56 L284.91,465.56 L285.41,465.56 L285.91,465.56 L286.41,465.56 L286.91,465.56 L287.41,465.56 L287.91,465.56 L288.41,465.56 L288.91,465.56 L289.41,465.56 L289.91,465.56 L290.41,465.56 L290.91,465.56 L291.41,465.56 L291.91,465.56 L292.41,465.56 L292.91,465.56 L293.41,465.56 L293.91,465.56 L294.41,465.56 L294.91,465.56 L295.41,465.56 L295.91,465.56 L296.41,465.56 L296.91,465.56 L297.41,465.56 L297.91,465.55 L298.41,465.54 L298.91,465.53 L299.41,465.51 L299.91,465.49 L300.41,465.47 L300.91,465.45 L301.41,465.43 L301.91,465.41 L302.41,465.39 L302.91,465.37 L303.41,465.35 L303.91,465.33 L304.41,465.32 L304.91,465.30 L305.41,465.29 L305.91,465.29 L306.41,465.28 L306.91,465.27 L307.41,465.26 L307.91,465.25 L308.41,465.25 L308.91,465.24 L309.41,465.23 L309.91,465.23 L310.41,465.22 L310.91,465.22 L311.41,465.21 L311.91,465.21 L312.41,465.21 L312.91,465.20 L313.41,465.20 L313.91,465.20 L314.41,465.20 L314.91,465.21 L315.41,465.21 L315.91,465.21 L316.41,465.22 L316.91,465.23 L317.41,465.24 L317.91,465.25 L318.41,465.26 L318.91,465.27 L319.41,465.29 L319.91,465.30 L320.41,465.32 L320.91,465.33 L321.41,465.35 L321.91,465.36 L322.41,465.38 L322.41,465.70 L103.40,465.70 Z" fill="#000" fill-opacity="0.3" stroke="none"/>
<path d="M44.41,465.38 L44.91,465.37 L45.41,465.35 L45.91,465.32 L46.41,465.28 L46.91,465.24 L47.41,465.18 L47.91,465.12 L48.41,465.05 L48.91,464.97 L49.41,464.87 L49.91,464.76 L50.41,464.61 L50.91,464.43 L51.41,464.21 L51.91,463.93 L52.41,463.62 L52.91,463.27 L53.41,462.87 L53.91,462.42 L54.41,461.90 L54.91,461.30 L55.41,460.63 L55.91,459.88 L56.41,459.05 L56.91,458.11 L57.41,457.08 L57.91,455.93 L58.41,454.68 L58.91,453.33 L59.41,451.86 L59.91,450.28 L60.41,448.59 L60.91,446.78 L61.41,444.87 L61.91,442.84 L62.41,440.71 L62.91,438.45 L63.41,436.08 L63.91,433.58 L64.41,430.95 L64.91,428.18 L65.41,425.27 L65.91,422.20 L66.41,418.97 L66.91,415.57 L67.41,412.06 L67.91,408.52 L68.41,405.06 L68.91,401.73 L69.41,398.54 L69.91,395.40 L70.41,392.17 L70.91,388.71 L71.41,384.92 L71.91,380.83 L72.41,376.56 L72.91,372.28 L73.41,368.10 L73.91,364.07 L74.41,360.19 L74.91,356.45 L75.41,352.83 L75.91,349.31 L76.41,345.87 L76.91,342.50 L77.41,339.19 L77.91,335.94 L78.41,332.74 L78.91,329.61 L79.41,326.54 L79.91,323.56 L80.41,320.67 L80.91,317.89 L81.41,315.22 L81.91,312.67 L82.41,310.23 L82.91,307.91 L83.41,305.70 L83.91,303.61 L84.41,301.63 L84.91,299.77 L85.41,298.06 L85.91,296.50 L86.41,295.12 L86.91,293.97 L87.41,293.07 L87.91,292.42 L88.41,291.97 L88.91,291.71 L89.41,291.60 L89.91,291.66 L90.41,291.88 L90.91,292.27 L91.41,292.81 L91.91,293.49 L92.41,294.31 L92.91,295.28 L93.41,296.38 L93.91,297.61 L94.41,298.93 L94.91,300.32 L95.41,301.79 L95.91,303.32 L96.41,304.89 L96.91,306.49 L97.41,308.11 L97.91,309.76 L98.41,311.42 L98.91,313.09 L99.41,314.77 L99.91,316.45 L100.41,318.14 L100.91,319.83 L101.41,321.51 L101.91,323.20 L102.41,324.86 L102.91,326.50 L103.41,328.11 L103.91,329.67 L104.41,331.20 L104.91,332.70 L105.41,334.17 L105.91,335.63 L106.41,337.09 L106.91,338.55 L107.41,340.02 L107.91,341.49 L108.41,342.98 L108.91,344.48 L109.41,346.01 L109.91,347.57 L110.41,349.17 L110.91,350.80 L111.41,352.47 L111.91,354.18 L112.41,355.92 L112.91,357.70 L113.41,359.52 L113.91,361.38 L114.41,363.28 L114.91,365.23 L115.41,367.21 L115.91,369.20 L116.41,371.21 L116.91,373.22 L117.41,375.23 L117.91,377.23 L118.41,379.24 L118.91,381.24 L119.41,383.23 L119.91,385.23 L120.41,387.22 L120.91,389.22 L121.41,391.20 L121.91,393.17 L122.41,395.10 L122.91,396.99 L123.41,398.81 L123.91,400.53 L124.41,402.11 L124.91,403.50 L125.41,404.69 L125.91,405.71 L126.41,406.58 L126.91,407.36 L127.41,408.09 L127.91,408.80 L128.41,409.54 L128.91,410.32 L129.41,411.18 L129.91,412.15 L130.41,413.23 L130.91,414.41 L131.41,415.68 L131.91,416.98 L132.41,418.30 L132.91,419.61 L133.41,420.89 L133.91,422.14 L134.41,423.36 L134.91,424.54 L135.41,425.69 L135.91,426.78 L136.41,427.80 L136.91,428.76 L137.41,429.64 L137.91,430.46 L138.41,431.23 L138.91,431.97 L139.41,432.69 L139.91,433.41 L140.41,434.14 L140.91,434.89 L141.41,435.65 L141.91,436.43 L142.41,437.22 L142.91,438.01 L143.41,438.81 L143.91,439.60 L144.41,440.40 L144.91,441.18 L145.41,441.96 L145.91,442.73 L146.41,443.49 L146.91,444.24 L147.41,444.98 L147.91,445.72 L148.41,446.44 L148.91,447.13 L149.41,447.78 L149.91,448.38 L150.41,448.94 L150.91,449.45 L151.41,449.93 L151.91,450.38 L152.41,450.80 L152.91,451.20 L153.41,451.59 L153.91,451.96 L154.41,452.32 L154.91,452.66 L155.41,453.00 L155.91,453.33 L156.41,453.65 L156.91,453.96 L157.41,454.25 L157.91,454.52 L158.41,454.78 L158.91,455.02 L159.41,455.24 L159.91,455.44 L160.41,455.63 L160.91,455.80 L161.41,455.97 L161.91,456.13 L162.41,456.28 L162.91,456.44 L163.41,456.59 L163.91,456.75 L164.41,456.91 L164.91,457.09 L165.41,457.27 L165.91,457.46 L166.41,457.66 L166.91,457.86 L167.41,458.07 L167.91,458.28 L168.41,458.49 L168.91,458.70 L169.41,458.90 L169.91,459.09 L170.41,459.28 L170.91,459.47 L171.41,459.66 L171.91,459.84 L172.41,460.02 L172.91,460.19 L173.41,460.35 L173.91,460.49 L174.41,460.60 L174.91,460.70 L175.41,460.77 L175.91,460.83 L176.41,460.88 L176.91,460.92 L177.41,460.95 L177.91,460.99 L178.41,461.02 L178.91,461.06 L179.41,461.11 L179.91,461.17 L180.41,461.24 L180.91,461.32 L181.41,461.43 L181.91,461.54 L182.41,461.66 L182.91,461.77 L183.41,461.88 L183.91,461.98 L184.41,462.05 L184.91,462.11 L185.41,462.16 L185.91,462.19 L186.41,462.21 L186.91,462.23 L187.41,462.24 L187.91,462.25 L188.41,462.26 L188.91,462.28 L189.41,462.29 L189.91,462.31 L190.41,462.34 L190.91,462.38 L191.41,462.43 L191.91,462.50 L192.41,462.60 L192.91,462.72 L193.41,462.85 L193.91,462.99 L194.41,463.13 L194.91,463.26 L195.41,463.39 L195.91,463.51 L196.41,463.63 L196.91,463.73 L197.41,463.84 L197.91,463.94 L198.41,464.04 L198.91,464.12 L199.41,464.20 L199.91,464.26 L200.41,464.31 L200.91,464.33 L201.41,464.35 L201.91,464.36 L202.41,464.36 L202.91,464.36 L203.41,464.36 L203.91,464.36 L204.41,464.36 L204.91,464.36 L205.41,464.36 L205.91,464.36 L206.41,464.36 L206.91,464.36 L207.41,464.36 L207.91,464.36 L208.41,464.36 L208.91,464.36 L209.41,464.36 L209.91,464.36 L210.41,464.36 L210.91,464.36 L211.41,464.36 L211.91,464.37 L212.41,464.38 L212.91,464.40 L213.41,464.42 L213.91,464.46 L214.41,464.50 L214.91,464.56 L215.41,464.61 L215.91,464.68 L216.41,464.74 L216.91,464.81 L217.41,464.87 L217.91,464.93 L218.41,464.99 L218.91,465.05 L219.41,465.10 L219.91,465.14 L220.41,465.18 L220.91,465.22 L221.41,465.25 L221.91,465.29 L222.41,465.32 L222.91,465.35 L223.41,465.38 L223.91,465.41 L224.41,465.44 L224.91,465.47 L225.41,465.49 L225.91,465.51 L226.41,465.53 L226.91,465.54 L227.41,465.55 L227.91,465.56 L228.41,465.56 L228.91,465.56 L229.41,465.55 L229.91,465.55 L230.41,465.54 L230.91,465.53 L231.41,465.52 L231.91,465.51 L232.41,465.50 L232.91,465.49 L233.41,465.48 L233.91,465.47 L234.41,465.46 L234.91,465.44 L235.41,465.43 L235.91,465.42 L236.41,465.41 L236.91,465.40 L237.41,465.39 L237.91,465.38 L238.41,465.38 L238.91,465.37 L239.41,465.37 L239.91,465.37 L240.41,465.37 L240.91,465.37 L241.41,465.38 L241.91,465.38 L242.41,465.39 L242.91,465.40 L243.41,465.41 L243.91,465.43 L244.41,465.44 L244.91,465.46 L245.41,465.47 L245.91,465.49 L246.41,465.50 L246.91,465.51 L247.41,465.52 L247.91,465.53 L248.41,465.54 L248.91,465.55 L249.41,465.55 L249.91,465.56 L250.41,465.55 L250.91,465.54 L251.41,465.53 L251.91,465.50 L252.41,465.48 L252.91,465.45 L253.41,465.41 L253.91,465.38 L254.41,465.34 L254.91,465.31 L255.41,465.28 L255.91,465.24 L256.41,465.22 L256.91,465.20 L257.41,465.18 L257.91,465.18 L258.41,465.18 L258.91,465.18 L259.41,465.20 L259.91,465.22 L260.41,465.25 L260.91,465.28 L261.41,465.32 L261.91,465.36 L262.41,465.40 L262.91,465.44 L263.41,465.48 L263.91,465.53 L264.41,465.57 L264.91,465.61 L265.41,465.65 L265.91,465.68 L266.41,465.71 L266.91,465.73 L267.41,465.74 L267.91,465.75 L268.41,465.76 L268.91,465.76 L269.41,465.75 L269.91,465.75 L270.41,465.74 L270.91,465.73 L271.41,465.73 L271.91,465.72 L272.41,465.70 L272.91,465.69 L273.41,465.68 L273.91,465.67 L274.41,465.66 L274.91,465.64 L275.41,465.63 L275.91,465.62 L276.41,465.61 L276.91,465.60 L277.41,465.59 L277.91,465.58 L278.41,465.58 L278.91,465.57 L279.41,465.57 L279.91,465.57 L280.41,465.56 L280.91,465.56 L281.41,465.56 L281.91,465.56 L282.41,465.56 L282.91,465.56 L283.41,465.56 L283.91,465.56 L284.41,465.56 L284.91,465.56 L285.41,465.56 L285.91,465.56 L286.41,465.56 L286.91,465.56 L287.41,465.56 L287.91,465.56 L288.41,465.56 L288.91,465.56 L289.41,465.56 L289.91,465.56 L290.41,465.56 L290.91,465.56 L291.41,465.56 L291.91,465.56 L292.41,465.56 L292.91,465.56 L293.41,465.56 L293.91,465.56 L294.41,465.56 L294.91,465.56 L295.41,465.56 L295.91,465.56 L296.41,465.56 L296.91,465.56 L297.41,465.56 L297.91,465.55 L298.41,465.54 L298.91,465.53 L299.41,465.51 L299.91,465.49 L300.41,465.47 L300.91,465.45 L301.41,465.43 L301.91,465.41 L302.41,465.39 L302.91,465.37 L303.41,465.35 L303.91,465.33 L304.41,465.32 L304.91,465.30 L305.41,465.29 L305.91,465.29 L306.41,465.28 L306.91,465.27 L307.41,465.26 L307.91,465.25 L308.41,465.25 L308.91,465.24 L309.41,465.23 L309.91,465.23 L310.41,465.22 L310.91,465.22 L311.41,465.21 L311.91,465.21 L312.41,465.21 L312.91,465.20 L313.41,465.20 L313.91,465.20 L314.41,465.20 L314.91,465.21 L315.41,465.21 L315.91,465.21 L316.41,465.22 L316.91,465.23 L317.41,465.24 L317.91,465.25 L318.41,465.26 L318.91,465.27 L319.41,465.29 L319.91,465.30 L320.41,465.32 L320.91,465.33 L321.41,465.35 L321.91,465.36 L322.41,465.38" fill="none" stroke="#222" stroke-width="1.15" stroke-linejoin="round" stroke-linecap="butt"/>
<line x1="103.40" x2="103.40" y1="283.3" y2="474.3" stroke="#262626" stroke-width="0.85" stroke-dasharray="1.75 1.75" stroke-opacity="1"/>
<rect x="30.5" y="283.3" width="306.10" height="191.00" fill="none" stroke="#c6c6c6" stroke-width="1.0"/>
<line x1="54.35" x2="54.35" y1="474.3" y2="476.5" stroke="#c6c6c6" stroke-width="1.0"/>
<text x="54.35" y="482" font-size="8.7" fill="#454545" stroke="#454545" stroke-width="0.2" text-anchor="middle">0</text>
<line x1="119.75" x2="119.75" y1="474.3" y2="476.5" stroke="#c6c6c6" stroke-width="1.0"/>
<text x="119.75" y="482" font-size="8.7" fill="#454545" stroke="#454545" stroke-width="0.2" text-anchor="middle">20</text>
<line x1="185.15" x2="185.15" y1="474.3" y2="476.5" stroke="#c6c6c6" stroke-width="1.0"/>
<text x="185.15" y="482" font-size="8.7" fill="#454545" stroke="#454545" stroke-width="0.2" text-anchor="middle">40</text>
<line x1="250.55" x2="250.55" y1="474.3" y2="476.5" stroke="#c6c6c6" stroke-width="1.0"/>
<text x="250.55" y="482" font-size="8.7" fill="#454545" stroke="#454545" stroke-width="0.2" text-anchor="middle">60</text>
<line x1="315.95" x2="315.95" y1="474.3" y2="476.5" stroke="#c6c6c6" stroke-width="1.0"/>
<text x="315.95" y="482" font-size="8.7" fill="#454545" stroke="#454545" stroke-width="0.2" text-anchor="middle">80</text>
<line x1="28.3" x2="30.5" y1="465.70" y2="465.70" stroke="#c6c6c6" stroke-width="1.0"/>
<text x="27.50" y="469" font-size="8.7" letter-spacing="-0.35" fill="#454545" stroke="#454545" stroke-width="0.2" text-anchor="end">0.00</text>
<line x1="28.3" x2="30.5" y1="412.00" y2="412.00" stroke="#c6c6c6" stroke-width="1.0"/>
<text x="27.50" y="415" font-size="8.7" letter-spacing="-0.35" fill="#454545" stroke="#454545" stroke-width="0.2" text-anchor="end">0.02</text>
<line x1="28.3" x2="30.5" y1="358.30" y2="358.30" stroke="#c6c6c6" stroke-width="1.0"/>
<text x="27.50" y="362" font-size="8.7" letter-spacing="-0.35" fill="#454545" stroke="#454545" stroke-width="0.2" text-anchor="end">0.04</text>
<line x1="28.3" x2="30.5" y1="304.60" y2="304.60" stroke="#c6c6c6" stroke-width="1.0"/>
<text x="27.50" y="308" font-size="8.7" letter-spacing="-0.35" fill="#454545" stroke="#454545" stroke-width="0.2" text-anchor="end">0.06</text>
<text x="184.05" y="491.90" font-size="9.1" fill="#000" stroke="#000" stroke-width="0.15" text-anchor="middle">Simulated Injury Counts (per 1000 Minutes)</text>
<text transform="translate(8.80,378.80) rotate(-90)" font-size="9.1" fill="#000" stroke="#000" stroke-width="0.15" text-anchor="middle">Density</text>
<text x="31.50" y="266.00" font-size="8.96" fill="#000" stroke="#000" stroke-width="0.15">Posterior Predictive Distribution – Threshold = 15</text>
<text x="31.50" y="277.00" font-size="8.96" fill="#000" stroke="#000" stroke-width="0.15">P(Injury Counts &gt; 15) = 0.371</text>
<text x="10.7" y="262.65" font-size="10.6" font-weight="bold" fill="#000">C.</text></g>
<g font-family="'Liberation Sans', Arial, Helvetica, sans-serif"><line x1="446.24" x2="446.24" y1="283.4" y2="474.3" stroke="#ebebeb" stroke-width="0.5"/>
<line x1="531.92" x2="531.92" y1="283.4" y2="474.3" stroke="#ebebeb" stroke-width="0.5"/>
<line x1="617.60" x2="617.60" y1="283.4" y2="474.3" stroke="#ebebeb" stroke-width="0.5"/>
<line x1="377.0" x2="683.1" y1="438.05" y2="438.05" stroke="#ebebeb" stroke-width="0.5"/>
<line x1="377.0" x2="683.1" y1="382.65" y2="382.65" stroke="#ebebeb" stroke-width="0.5"/>
<line x1="377.0" x2="683.1" y1="327.25" y2="327.25" stroke="#ebebeb" stroke-width="0.5"/>
<line x1="403.40" x2="403.40" y1="283.4" y2="474.3" stroke="#ebebeb" stroke-width="0.75"/>
<line x1="489.08" x2="489.08" y1="283.4" y2="474.3" stroke="#ebebeb" stroke-width="0.75"/>
<line x1="574.76" x2="574.76" y1="283.4" y2="474.3" stroke="#ebebeb" stroke-width="0.75"/>
<line x1="660.44" x2="660.44" y1="283.4" y2="474.3" stroke="#ebebeb" stroke-width="0.75"/>
<line x1="377.0" x2="683.1" y1="465.75" y2="465.75" stroke="#ebebeb" stroke-width="0.75"/>
<line x1="377.0" x2="683.1" y1="410.35" y2="410.35" stroke="#ebebeb" stroke-width="0.75"/>
<line x1="377.0" x2="683.1" y1="354.95" y2="354.95" stroke="#ebebeb" stroke-width="0.75"/>
<line x1="377.0" x2="683.1" y1="299.55" y2="299.55" stroke="#ebebeb" stroke-width="0.75"/>
<path d="M531.92,449.53 L532.11,449.56 L532.61,449.65 L533.11,449.72 L533.61,449.79 L534.11,449.86 L534.61,449.93 L535.11,450.00 L535.61,450.07 L536.11,450.16 L536.61,450.27 L537.11,450.41 L537.61,450.57 L538.11,450.78 L538.61,451.02 L539.11,451.29 L539.61,451.59 L540.11,451.90 L540.61,452.22 L541.11,452.54 L541.61,452.85 L542.11,453.16 L542.61,453.47 L543.11,453.78 L543.61,454.09 L544.11,454.40 L544.61,454.71 L545.11,455.02 L545.61,455.32 L546.11,455.61 L546.61,455.88 L547.11,456.15 L547.61,456.41 L548.11,456.66 L548.61,456.91 L549.11,457.15 L549.61,457.38 L550.11,457.60 L550.61,457.82 L551.11,458.03 L551.61,458.22 L552.11,458.41 L552.61,458.58 L553.11,458.74 L553.61,458.89 L554.11,459.04 L554.61,459.17 L555.11,459.30 L555.61,459.42 L556.11,459.54 L556.61,459.65 L557.11,459.76 L557.61,459.86 L558.11,459.96 L558.61,460.06 L559.11,460.15 L559.61,460.24 L560.11,460.33 L560.61,460.42 L561.11,460.50 L561.61,460.59 L562.11,460.66 L562.61,460.74 L563.11,460.82 L563.61,460.89 L564.11,460.96 L564.61,461.03 L565.11,461.10 L565.61,461.17 L566.11,461.23 L566.61,461.29 L567.11,461.35 L567.61,461.41 L568.11,461.47 L568.61,461.52 L569.11,461.57 L569.61,461.62 L570.11,461.67 L570.61,461.72 L571.11,461.76 L571.61,461.81 L572.11,461.86 L572.61,461.91 L573.11,461.95 L573.61,462.00 L574.11,462.05 L574.61,462.11 L575.11,462.16 L575.61,462.21 L576.11,462.27 L576.61,462.33 L577.11,462.39 L577.61,462.44 L578.11,462.50 L578.61,462.56 L579.11,462.63 L579.61,462.69 L580.11,462.75 L580.61,462.82 L581.11,462.88 L581.61,462.95 L582.11,463.02 L582.61,463.09 L583.11,463.17 L583.61,463.25 L584.11,463.34 L584.61,463.44 L585.11,463.55 L585.61,463.65 L586.11,463.76 L586.61,463.85 L587.11,463.94 L587.61,464.01 L588.11,464.07 L588.61,464.11 L589.11,464.14 L589.61,464.14 L590.11,464.14 L590.61,464.14 L591.11,464.13 L591.61,464.11 L592.11,464.10 L592.61,464.08 L593.11,464.06 L593.61,464.04 L594.11,464.03 L594.61,464.01 L595.11,464.00 L595.61,463.98 L596.11,463.97 L596.61,463.97 L597.11,463.97 L597.61,463.98 L598.11,463.99 L598.61,464.02 L599.11,464.05 L599.61,464.09 L600.11,464.13 L600.61,464.18 L601.11,464.23 L601.61,464.28 L602.11,464.33 L602.61,464.37 L603.11,464.42 L603.61,464.46 L604.11,464.50 L604.61,464.53 L605.11,464.55 L605.61,464.57 L606.11,464.59 L606.61,464.60 L607.11,464.61 L607.61,464.62 L608.11,464.63 L608.61,464.64 L609.11,464.65 L609.61,464.66 L610.11,464.66 L610.61,464.67 L611.11,464.68 L611.61,464.69 L612.11,464.69 L612.61,464.70 L613.11,464.71 L613.61,464.72 L614.11,464.74 L614.61,464.75 L615.11,464.76 L615.61,464.78 L616.11,464.81 L616.61,464.83 L617.11,464.86 L617.61,464.90 L618.11,464.93 L618.61,464.97 L619.11,465.01 L619.61,465.05 L620.11,465.09 L620.61,465.13 L621.11,465.17 L621.61,465.21 L622.11,465.24 L622.61,465.27 L623.11,465.30 L623.61,465.32 L624.11,465.34 L624.61,465.35 L625.11,465.36 L625.61,465.36 L626.11,465.36 L626.61,465.36 L627.11,465.36 L627.61,465.36 L628.11,465.36 L628.61,465.36 L629.11,465.36 L629.61,465.36 L630.11,465.36 L630.61,465.36 L631.11,465.36 L631.61,465.36 L632.11,465.36 L632.61,465.36 L633.11,465.36 L633.61,465.35 L634.11,465.34 L634.61,465.33 L635.11,465.31 L635.61,465.28 L636.11,465.26 L636.61,465.23 L637.11,465.19 L637.61,465.16 L638.11,465.13 L638.61,465.10 L639.11,465.07 L639.61,465.04 L640.11,465.02 L640.61,465.00 L641.11,464.98 L641.61,464.97 L642.11,464.97 L642.61,464.96 L643.11,464.96 L643.61,464.96 L644.11,464.97 L644.61,464.97 L645.11,464.97 L645.61,464.97 L646.11,464.97 L646.61,464.98 L647.11,464.98 L647.61,464.98 L648.11,464.99 L648.61,464.99 L649.11,464.99 L649.61,465.00 L650.11,465.00 L650.61,465.01 L651.11,465.01 L651.61,465.02 L652.11,465.03 L652.61,465.04 L653.11,465.05 L653.61,465.06 L654.11,465.07 L654.61,465.08 L655.11,465.09 L655.61,465.11 L656.11,465.12 L656.61,465.13 L657.11,465.14 L657.61,465.15 L658.11,465.16 L658.61,465.17 L659.11,465.18 L659.61,465.19 L660.11,465.20 L660.61,465.21 L661.11,465.22 L661.61,465.22 L662.11,465.23 L662.61,465.24 L663.11,465.24 L663.61,465.25 L664.11,465.25 L664.61,465.26 L665.11,465.26 L665.61,465.27 L666.11,465.28 L666.61,465.28 L667.11,465.28 L667.61,465.29 L668.11,465.29 L668.61,465.29 L668.61,465.75 L531.92,465.75 Z" fill="#000" fill-opacity="0.3" stroke="none"/>
<path d="M390.61,465.58 L391.11,465.58 L391.61,465.57 L392.11,465.55 L392.61,465.53 L393.11,465.51 L393.61,465.48 L394.11,465.45 L394.61,465.41 L395.11,465.37 L395.61,465.32 L396.11,465.27 L396.61,465.21 L397.11,465.14 L397.61,465.05 L398.11,464.93 L398.61,464.78 L399.11,464.61 L399.61,464.41 L400.11,464.19 L400.61,463.94 L401.11,463.68 L401.61,463.38 L402.11,463.05 L402.61,462.67 L403.11,462.24 L403.61,461.76 L404.11,461.21 L404.61,460.62 L405.11,459.98 L405.61,459.30 L406.11,458.56 L406.61,457.77 L407.11,456.91 L407.61,455.98 L408.11,454.99 L408.61,453.93 L409.11,452.82 L409.61,451.64 L410.11,450.39 L410.61,449.07 L411.11,447.69 L411.61,446.23 L412.11,444.72 L412.61,443.15 L413.11,441.51 L413.61,439.81 L414.11,438.05 L414.61,436.22 L415.11,434.34 L415.61,432.40 L416.11,430.41 L416.61,428.34 L417.11,426.20 L417.61,423.95 L418.11,421.59 L418.61,419.10 L419.11,416.49 L419.61,413.77 L420.11,410.93 L420.61,408.00 L421.11,404.96 L421.61,401.80 L422.11,398.50 L422.61,395.05 L423.11,391.44 L423.61,387.71 L424.11,383.93 L424.61,380.15 L425.11,376.44 L425.61,372.82 L426.11,369.32 L426.61,365.96 L427.11,362.76 L427.61,359.75 L428.11,356.94 L428.61,354.33 L429.11,351.87 L429.61,349.52 L430.11,347.23 L430.61,344.98 L431.11,342.74 L431.61,340.51 L432.11,338.29 L432.61,336.06 L433.11,333.83 L433.61,331.62 L434.11,329.42 L434.61,327.25 L435.11,325.12 L435.61,323.02 L436.11,320.96 L436.61,318.96 L437.11,317.01 L437.61,315.12 L438.11,313.32 L438.61,311.59 L439.11,309.96 L439.61,308.43 L440.11,307.00 L440.61,305.64 L441.11,304.36 L441.61,303.15 L442.11,302.00 L442.61,300.91 L443.11,299.87 L443.61,298.88 L444.11,297.94 L444.61,297.05 L445.11,296.22 L445.61,295.46 L446.11,294.77 L446.61,294.14 L447.11,293.57 L447.61,293.07 L448.11,292.63 L448.61,292.26 L449.11,291.95 L449.61,291.71 L450.11,291.53 L450.61,291.41 L451.11,291.34 L451.61,291.33 L452.11,291.38 L452.61,291.47 L453.11,291.62 L453.61,291.82 L454.11,292.07 L454.61,292.38 L455.11,292.76 L455.61,293.19 L456.11,293.69 L456.61,294.26 L457.11,294.88 L457.61,295.56 L458.11,296.29 L458.61,297.07 L459.11,297.91 L459.61,298.81 L460.11,299.78 L460.61,300.82 L461.11,301.93 L461.61,303.09 L462.11,304.31 L462.61,305.57 L463.11,306.86 L463.61,308.17 L464.11,309.50 L464.61,310.84 L465.11,312.18 L465.61,313.51 L466.11,314.85 L466.61,316.19 L467.11,317.54 L467.61,318.90 L468.11,320.27 L468.61,321.67 L469.11,323.08 L469.61,324.51 L470.11,325.97 L470.61,327.46 L471.11,328.97 L471.61,330.51 L472.11,332.09 L472.61,333.69 L473.11,335.33 L473.61,336.99 L474.11,338.66 L474.61,340.34 L475.11,342.02 L475.61,343.69 L476.11,345.36 L476.61,347.03 L477.11,348.71 L477.61,350.38 L478.11,352.06 L478.61,353.75 L479.11,355.45 L479.61,357.13 L480.11,358.78 L480.61,360.38 L481.11,361.92 L481.61,363.38 L482.11,364.78 L482.61,366.13 L483.11,367.46 L483.61,368.78 L484.11,370.12 L484.61,371.48 L485.11,372.86 L485.61,374.25 L486.11,375.64 L486.61,377.00 L487.11,378.32 L487.61,379.59 L488.11,380.80 L488.61,381.94 L489.11,383.01 L489.61,384.05 L490.11,385.04 L490.61,386.02 L491.11,386.99 L491.61,387.97 L492.11,388.95 L492.61,389.95 L493.11,390.95 L493.61,391.96 L494.11,392.98 L494.61,394.03 L495.11,395.12 L495.61,396.24 L496.11,397.41 L496.61,398.63 L497.11,399.87 L497.61,401.13 L498.11,402.39 L498.61,403.63 L499.11,404.85 L499.61,406.06 L500.11,407.25 L500.61,408.42 L501.11,409.60 L501.61,410.78 L502.11,411.96 L502.61,413.15 L503.11,414.35 L503.61,415.54 L504.11,416.69 L504.61,417.79 L505.11,418.83 L505.61,419.79 L506.11,420.69 L506.61,421.53 L507.11,422.34 L507.61,423.12 L508.11,423.88 L508.61,424.64 L509.11,425.40 L509.61,426.17 L510.11,426.94 L510.61,427.70 L511.11,428.46 L511.61,429.21 L512.11,429.95 L512.61,430.68 L513.11,431.38 L513.61,432.07 L514.11,432.73 L514.61,433.37 L515.11,434.00 L515.61,434.63 L516.11,435.29 L516.61,435.99 L517.11,436.75 L517.61,437.57 L518.11,438.43 L518.61,439.28 L519.11,440.09 L519.61,440.84 L520.11,441.53 L520.61,442.17 L521.11,442.77 L521.61,443.34 L522.11,443.87 L522.61,444.38 L523.11,444.86 L523.61,445.33 L524.11,445.77 L524.61,446.20 L525.11,446.61 L525.61,447.00 L526.11,447.37 L526.61,447.71 L527.11,448.01 L527.61,448.27 L528.11,448.50 L528.61,448.69 L529.11,448.86 L529.61,449.01 L530.11,449.14 L530.61,449.26 L531.11,449.37 L531.61,449.47 L532.11,449.56 L532.61,449.65 L533.11,449.72 L533.61,449.79 L534.11,449.86 L534.61,449.93 L535.11,450.00 L535.61,450.07 L536.11,450.16 L536.61,450.27 L537.11,450.41 L537.61,450.57 L538.11,450.78 L538.61,451.02 L539.11,451.29 L539.61,451.59 L540.11,451.90 L540.61,452.22 L541.11,452.54 L541.61,452.85 L542.11,453.16 L542.61,453.47 L543.11,453.78 L543.61,454.09 L544.11,454.40 L544.61,454.71 L545.11,455.02 L545.61,455.32 L546.11,455.61 L546.61,455.88 L547.11,456.15 L547.61,456.41 L548.11,456.66 L548.61,456.91 L549.11,457.15 L549.61,457.38 L550.11,457.60 L550.61,457.82 L551.11,458.03 L551.61,458.22 L552.11,458.41 L552.61,458.58 L553.11,458.74 L553.61,458.89 L554.11,459.04 L554.61,459.17 L555.11,459.30 L555.61,459.42 L556.11,459.54 L556.61,459.65 L557.11,459.76 L557.61,459.86 L558.11,459.96 L558.61,460.06 L559.11,460.15 L559.61,460.24 L560.11,460.33 L560.61,460.42 L561.11,460.50 L561.61,460.59 L562.11,460.66 L562.61,460.74 L563.11,460.82 L563.61,460.89 L564.11,460.96 L564.61,461.03 L565.11,461.10 L565.61,461.17 L566.11,461.23 L566.61,461.29 L567.11,461.35 L567.61,461.41 L568.11,461.47 L568.61,461.52 L569.11,461.57 L569.61,461.62 L570.11,461.67 L570.61,461.72 L571.11,461.76 L571.61,461.81 L572.11,461.86 L572.61,461.91 L573.11,461.95 L573.61,462.00 L574.11,462.05 L574.61,462.11 L575.11,462.16 L575.61,462.21 L576.11,462.27 L576.61,462.33 L577.11,462.39 L577.61,462.44 L578.11,462.50 L578.61,462.56 L579.11,462.63 L579.61,462.69 L580.11,462.75 L580.61,462.82 L581.11,462.88 L581.61,462.95 L582.11,463.02 L582.61,463.09 L583.11,463.17 L583.61,463.25 L584.11,463.34 L584.61,463.44 L585.11,463.55 L585.61,463.65 L586.11,463.76 L586.61,463.85 L587.11,463.94 L587.61,464.01 L588.11,464.07 L588.61,464.11 L589.11,464.14 L589.61,464.14 L590.11,464.14 L590.61,464.14 L591.11,464.13 L591.61,464.11 L592.11,464.10 L592.61,464.08 L593.11,464.06 L593.61,464.04 L594.11,464.03 L594.61,464.01 L595.11,464.00 L595.61,463.98 L596.11,463.97 L596.61,463.97 L597.11,463.97 L597.61,463.98 L598.11,463.99 L598.61,464.02 L599.11,464.05 L599.61,464.09 L600.11,464.13 L600.61,464.18 L601.11,464.23 L601.61,464.28 L602.11,464.33 L602.61,464.37 L603.11,464.42 L603.61,464.46 L604.11,464.50 L604.61,464.53 L605.11,464.55 L605.61,464.57 L606.11,464.59 L606.61,464.60 L607.11,464.61 L607.61,464.62 L608.11,464.63 L608.61,464.64 L609.11,464.65 L609.61,464.66 L610.11,464.66 L610.61,464.67 L611.11,464.68 L611.61,464.69 L612.11,464.69 L612.61,464.70 L613.11,464.71 L613.61,464.72 L614.11,464.74 L614.61,464.75 L615.11,464.76 L615.61,464.78 L616.11,464.81 L616.61,464.83 L617.11,464.86 L617.61,464.90 L618.11,464.93 L618.61,464.97 L619.11,465.01 L619.61,465.05 L620.11,465.09 L620.61,465.13 L621.11,465.17 L621.61,465.21 L622.11,465.24 L622.61,465.27 L623.11,465.30 L623.61,465.32 L624.11,465.34 L624.61,465.35 L625.11,465.36 L625.61,465.36 L626.11,465.36 L626.61,465.36 L627.11,465.36 L627.61,465.36 L628.11,465.36 L628.61,465.36 L629.11,465.36 L629.61,465.36 L630.11,465.36 L630.61,465.36 L631.11,465.36 L631.61,465.36 L632.11,465.36 L632.61,465.36 L633.11,465.36 L633.61,465.35 L634.11,465.34 L634.61,465.33 L635.11,465.31 L635.61,465.28 L636.11,465.26 L636.61,465.23 L637.11,465.19 L637.61,465.16 L638.11,465.13 L638.61,465.10 L639.11,465.07 L639.61,465.04 L640.11,465.02 L640.61,465.00 L641.11,464.98 L641.61,464.97 L642.11,464.97 L642.61,464.96 L643.11,464.96 L643.61,464.96 L644.11,464.97 L644.61,464.97 L645.11,464.97 L645.61,464.97 L646.11,464.97 L646.61,464.98 L647.11,464.98 L647.61,464.98 L648.11,464.99 L648.61,464.99 L649.11,464.99 L649.61,465.00 L650.11,465.00 L650.61,465.01 L651.11,465.01 L651.61,465.02 L652.11,465.03 L652.61,465.04 L653.11,465.05 L653.61,465.06 L654.11,465.07 L654.61,465.08 L655.11,465.09 L655.61,465.11 L656.11,465.12 L656.61,465.13 L657.11,465.14 L657.61,465.15 L658.11,465.16 L658.61,465.17 L659.11,465.18 L659.61,465.19 L660.11,465.20 L660.61,465.21 L661.11,465.22 L661.61,465.22 L662.11,465.23 L662.61,465.24 L663.11,465.24 L663.61,465.25 L664.11,465.25 L664.61,465.26 L665.11,465.26 L665.61,465.27 L666.11,465.28 L666.61,465.28 L667.11,465.28 L667.61,465.29 L668.11,465.29 L668.61,465.29" fill="none" stroke="#222" stroke-width="1.15" stroke-linejoin="round" stroke-linecap="butt"/>
<line x1="531.92" x2="531.92" y1="283.4" y2="474.3" stroke="#262626" stroke-width="0.85" stroke-dasharray="1.75 1.75" stroke-opacity="0.6"/>
<rect x="377.0" y="283.4" width="306.10" height="190.90" fill="none" stroke="#c6c6c6" stroke-width="1.0"/>
<line x1="403.40" x2="403.40" y1="474.3" y2="476.5" stroke="#c6c6c6" stroke-width="1.0"/>
<text x="403.40" y="483" font-size="8.7" fill="#454545" stroke="#454545" stroke-width="0.2" text-anchor="middle">0</text>
<line x1="489.08" x2="489.08" y1="474.3" y2="476.5" stroke="#c6c6c6" stroke-width="1.0"/>
<text x="489.08" y="483" font-size="8.7" fill="#454545" stroke="#454545" stroke-width="0.2" text-anchor="middle">20</text>
<line x1="574.76" x2="574.76" y1="474.3" y2="476.5" stroke="#c6c6c6" stroke-width="1.0"/>
<text x="574.76" y="483" font-size="8.7" fill="#454545" stroke="#454545" stroke-width="0.2" text-anchor="middle">40</text>
<line x1="660.44" x2="660.44" y1="474.3" y2="476.5" stroke="#c6c6c6" stroke-width="1.0"/>
<text x="660.44" y="483" font-size="8.7" fill="#454545" stroke="#454545" stroke-width="0.2" text-anchor="middle">60</text>
<line x1="374.8" x2="377.0" y1="465.75" y2="465.75" stroke="#c6c6c6" stroke-width="1.0"/>
<text x="374.40" y="469" font-size="8.7" letter-spacing="-0.35" fill="#454545" stroke="#454545" stroke-width="0.2" text-anchor="end">0.00</text>
<line x1="374.8" x2="377.0" y1="410.35" y2="410.35" stroke="#c6c6c6" stroke-width="1.0"/>
<text x="374.40" y="414" font-size="8.7" letter-spacing="-0.35" fill="#454545" stroke="#454545" stroke-width="0.2" text-anchor="end">0.02</text>
<line x1="374.8" x2="377.0" y1="354.95" y2="354.95" stroke="#c6c6c6" stroke-width="1.0"/>
<text x="374.40" y="358" font-size="8.7" letter-spacing="-0.35" fill="#454545" stroke="#454545" stroke-width="0.2" text-anchor="end">0.04</text>
<line x1="374.8" x2="377.0" y1="299.55" y2="299.55" stroke="#c6c6c6" stroke-width="1.0"/>
<text x="374.40" y="303" font-size="8.7" letter-spacing="-0.35" fill="#454545" stroke="#454545" stroke-width="0.2" text-anchor="end">0.06</text>
<text x="530.45" y="491.90" font-size="9.1" fill="#000" stroke="#000" stroke-width="0.15" text-anchor="middle">Simulated Injury Counts (per 1000 Minutes)</text>
<text transform="translate(355.80,378.75) rotate(-90)" font-size="9.1" fill="#000" stroke="#000" stroke-width="0.15" text-anchor="middle">Density</text>
<text x="377.80" y="267.00" font-size="8.96" fill="#000" stroke="#000" stroke-width="0.15">Posterior Predictive Distribution – Threshold = 30</text>
<text x="377.80" y="278.00" font-size="8.96" fill="#000" stroke="#000" stroke-width="0.15">P(Injury Counts &gt; 30) = 0.035</text>
<text x="356.2" y="263" font-size="10.6" font-weight="bold" fill="#000">D.</text></g>
</svg>
</body></html>
